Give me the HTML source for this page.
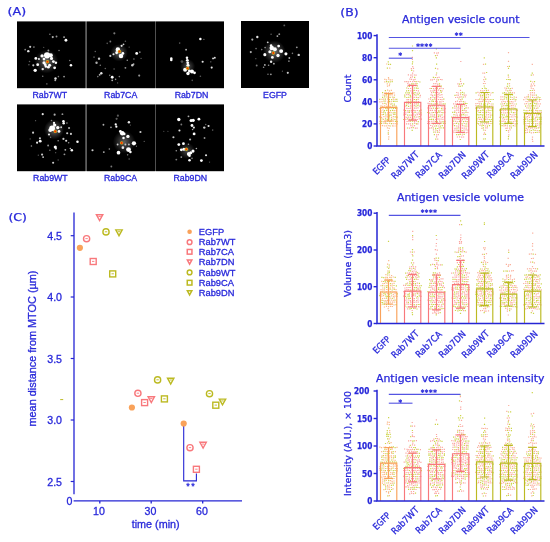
<!DOCTYPE html><html><head><meta charset="utf-8"><title>Figure</title>
<style>html,body{margin:0;padding:0;background:#fff}svg{display:block}.a{font-family:"Liberation Sans",sans-serif;stroke:#2828da;stroke-width:0.3px}.d{font-family:"DejaVu Sans Condensed","DejaVu Sans",sans-serif;stroke:#2828da;stroke-width:0.25px}</style></head><body>
<svg width="550" height="542" viewBox="0 0 550 542">
<defs><filter id="b1" x="-20%" y="-20%" width="140%" height="140%"><feGaussianBlur stdDeviation="0.6"/></filter><radialGradient id="hg"><stop offset="0" stop-color="#fff" stop-opacity="1"/><stop offset="0.5" stop-color="#fff" stop-opacity="0.45"/><stop offset="1" stop-color="#fff" stop-opacity="0"/></radialGradient><filter id="b3" x="-20%" y="-20%" width="140%" height="140%"><feGaussianBlur stdDeviation="0.62"/></filter><filter id="b2" x="-20%" y="-20%" width="140%" height="140%"><feGaussianBlur stdDeviation="0.35"/></filter></defs>
<rect width="550" height="542" fill="#fff"/>
<path d="M86 21.6V88M155.3 21.6V88M86 104.6V171M155.3 104.6V171" stroke="#8c8c8c" stroke-width="1.2"/>
<g><rect x="17" y="21.4" width="68.6" height="66.8" fill="#000"/>
<svg x="17" y="21.4" width="68.6" height="66.8" overflow="hidden"><g filter="url(#b1)" fill="#fff">
<circle cx="29.49" cy="40.15" r="11.92" fill="url(#hg)" fill-opacity="0.42"/>
<circle cx="30.11" cy="33.88" r="3.14" fill-opacity="1.00"/>
<circle cx="25.09" cy="34.50" r="1.69" fill-opacity="1.00"/>
<circle cx="33.88" cy="33.88" r="1.98" fill-opacity="1.00"/>
<circle cx="26.98" cy="41.41" r="1.55" fill-opacity="1.00"/>
<circle cx="28.23" cy="43.29" r="1.41" fill-opacity="0.99"/>
<circle cx="32.62" cy="43.91" r="1.55" fill-opacity="1.00"/>
<circle cx="36.39" cy="40.15" r="1.41" fill-opacity="1.00"/>
<circle cx="38.90" cy="41.41" r="1.26" fill-opacity="1.00"/>
<circle cx="37.64" cy="46.42" r="1.41" fill-opacity="0.99"/>
<circle cx="31.37" cy="45.80" r="1.41" fill-opacity="1.00"/>
<circle cx="28.86" cy="45.17" r="1.26" fill-opacity="1.00"/>
<circle cx="34.50" cy="37.01" r="1.55" fill-opacity="1.00"/>
<circle cx="26.98" cy="37.64" r="1.41" fill-opacity="0.99"/>
<circle cx="18.82" cy="37.01" r="1.41" fill-opacity="0.99"/>
<circle cx="20.70" cy="43.29" r="1.41" fill-opacity="0.99"/>
<circle cx="18.19" cy="48.93" r="1.69" fill-opacity="1.00"/>
<circle cx="48.93" cy="18.82" r="1.41" fill-opacity="1.00"/>
<circle cx="53.95" cy="43.91" r="1.26" fill-opacity="1.00"/>
</g><g filter="url(#b3)" fill="#fff">
<circle cx="21.96" cy="37.64" r="1.07" fill-opacity="0.89"/>
<circle cx="16.31" cy="43.91" r="1.07" fill-opacity="0.79"/>
<circle cx="25.72" cy="47.68" r="1.20" fill-opacity="0.89"/>
<circle cx="11.29" cy="29.74" r="1.20" fill-opacity="0.89"/>
<circle cx="13.17" cy="25.47" r="1.07" fill-opacity="0.79"/>
<circle cx="8.16" cy="28.23" r="0.79" fill-opacity="0.58"/>
<circle cx="16.94" cy="25.72" r="0.79" fill-opacity="0.58"/>
<circle cx="35.76" cy="15.68" r="1.07" fill-opacity="0.68"/>
<circle cx="39.52" cy="15.06" r="0.93" fill-opacity="0.58"/>
<circle cx="32.87" cy="12.80" r="0.79" fill-opacity="0.47"/>
<circle cx="47.05" cy="15.68" r="0.93" fill-opacity="0.68"/>
<circle cx="52.70" cy="39.15" r="0.79" fill-opacity="0.47"/>
<circle cx="38.52" cy="57.09" r="1.20" fill-opacity="0.89"/>
<circle cx="38.27" cy="58.97" r="0.93" fill-opacity="0.68"/>
<circle cx="47.05" cy="55.21" r="0.93" fill-opacity="0.58"/>
<circle cx="41.41" cy="55.21" r="0.79" fill-opacity="0.47"/>
<circle cx="25.72" cy="54.83" r="0.79" fill-opacity="0.47"/>
<circle cx="29.86" cy="62.48" r="0.79" fill-opacity="0.36"/>
<circle cx="42.03" cy="29.11" r="0.79" fill-opacity="0.47"/>
<circle cx="31.37" cy="29.11" r="0.93" fill-opacity="0.58"/>
<circle cx="26.73" cy="25.97" r="0.65" fill-opacity="0.36"/>
<circle cx="12.55" cy="40.15" r="0.79" fill-opacity="0.36"/>
<circle cx="11.92" cy="43.29" r="0.79" fill-opacity="0.36"/>
</g>
<g filter="url(#b2)"><circle cx="30.49" cy="40.40" r="1.7" fill="#c8c020"/><circle cx="30.49" cy="40.40" r="1.05" fill="#ff2a00"/></g>
</svg></g>
<text class="a" x="49.8" y="97.7" font-size="8.8" fill="#2828da" text-anchor="middle">Rab7WT</text>
<g><rect x="86.5" y="21.4" width="68.6" height="66.8" fill="#000"/>
<svg x="86.5" y="21.4" width="68.6" height="66.8" overflow="hidden"><g filter="url(#b1)" fill="#fff">
<circle cx="32.62" cy="31.37" r="8.78" fill="url(#hg)" fill-opacity="0.4"/>
<circle cx="31.37" cy="28.23" r="2.27" fill-opacity="1.00"/>
<circle cx="34.50" cy="34.50" r="2.27" fill-opacity="1.00"/>
<circle cx="36.39" cy="31.99" r="1.41" fill-opacity="1.00"/>
<circle cx="30.11" cy="31.37" r="1.41" fill-opacity="0.99"/>
<circle cx="50.19" cy="31.99" r="1.41" fill-opacity="1.00"/>
<circle cx="25.72" cy="55.83" r="1.41" fill-opacity="1.00"/>
</g><g filter="url(#b3)" fill="#fff">
<circle cx="26.98" cy="32.87" r="1.07" fill-opacity="0.89"/>
<circle cx="23.84" cy="34.50" r="1.07" fill-opacity="0.79"/>
<circle cx="35.13" cy="24.47" r="1.07" fill-opacity="0.89"/>
<circle cx="37.01" cy="22.96" r="0.93" fill-opacity="0.79"/>
<circle cx="53.32" cy="30.74" r="0.79" fill-opacity="0.58"/>
<circle cx="27.85" cy="11.92" r="1.07" fill-opacity="0.47"/>
<circle cx="23.84" cy="20.08" r="0.93" fill-opacity="0.47"/>
<circle cx="20.70" cy="21.96" r="0.79" fill-opacity="0.36"/>
<circle cx="38.90" cy="19.82" r="0.79" fill-opacity="0.36"/>
<circle cx="12.55" cy="37.26" r="1.20" fill-opacity="0.79"/>
<circle cx="10.04" cy="41.41" r="1.20" fill-opacity="0.68"/>
<circle cx="7.53" cy="35.76" r="0.79" fill-opacity="0.36"/>
<circle cx="8.78" cy="30.11" r="0.79" fill-opacity="0.36"/>
<circle cx="13.80" cy="43.91" r="0.79" fill-opacity="0.47"/>
<circle cx="14.81" cy="51.82" r="1.20" fill-opacity="0.89"/>
<circle cx="13.17" cy="53.32" r="0.93" fill-opacity="0.68"/>
<circle cx="11.29" cy="55.21" r="0.79" fill-opacity="0.47"/>
<circle cx="25.72" cy="58.97" r="0.93" fill-opacity="0.68"/>
<circle cx="29.11" cy="57.97" r="0.79" fill-opacity="0.58"/>
<circle cx="23.21" cy="53.95" r="0.79" fill-opacity="0.47"/>
<circle cx="32.87" cy="55.21" r="0.79" fill-opacity="0.47"/>
<circle cx="45.80" cy="43.91" r="1.20" fill-opacity="0.79"/>
<circle cx="47.05" cy="42.66" r="0.93" fill-opacity="0.68"/>
<circle cx="38.90" cy="46.42" r="0.93" fill-opacity="0.58"/>
<circle cx="40.78" cy="38.90" r="0.79" fill-opacity="0.58"/>
<circle cx="27.60" cy="47.68" r="0.79" fill-opacity="0.36"/>
<circle cx="18.82" cy="47.05" r="0.79" fill-opacity="0.36"/>
<circle cx="52.70" cy="54.20" r="1.07" fill-opacity="0.58"/>
<circle cx="47.43" cy="37.64" r="0.79" fill-opacity="0.47"/>
<circle cx="54.58" cy="37.01" r="0.65" fill-opacity="0.36"/>
<circle cx="42.66" cy="25.72" r="0.65" fill-opacity="0.36"/>
<circle cx="31.12" cy="61.48" r="0.65" fill-opacity="0.36"/>
</g>
<g filter="url(#b2)"><circle cx="33.00" cy="30.11" r="1.7" fill="#c8c020"/><circle cx="33.00" cy="30.11" r="1.05" fill="#ff2a00"/></g>
</svg></g>
<text class="a" x="120.7" y="97.7" font-size="8.8" fill="#2828da" text-anchor="middle">Rab7CA</text>
<g><rect x="155.6" y="21.4" width="68.4" height="66.8" fill="#000"/>
<svg x="155.6" y="21.4" width="68.4" height="66.8" overflow="hidden"><g filter="url(#b1)" fill="#fff">
<circle cx="31.99" cy="45.17" r="7.53" fill="url(#hg)" fill-opacity="0.35"/>
<circle cx="31.37" cy="36.39" r="1.26" fill-opacity="1.00"/>
<circle cx="31.74" cy="38.90" r="1.41" fill-opacity="1.00"/>
<circle cx="32.12" cy="41.41" r="1.41" fill-opacity="1.00"/>
<circle cx="32.37" cy="43.91" r="1.55" fill-opacity="1.00"/>
<circle cx="29.49" cy="48.31" r="1.98" fill-opacity="1.00"/>
<circle cx="36.39" cy="50.19" r="1.98" fill-opacity="1.00"/>
<circle cx="38.90" cy="51.44" r="1.41" fill-opacity="1.00"/>
<circle cx="32.37" cy="52.07" r="1.69" fill-opacity="1.00"/>
<circle cx="33.88" cy="49.56" r="1.55" fill-opacity="1.00"/>
<circle cx="15.68" cy="37.01" r="1.26" fill-opacity="1.00"/>
<circle cx="15.68" cy="38.64" r="1.26" fill-opacity="1.00"/>
<circle cx="44.79" cy="17.57" r="1.26" fill-opacity="0.99"/>
</g><g filter="url(#b3)" fill="#fff">
<circle cx="48.31" cy="17.94" r="0.65" fill-opacity="0.47"/>
<circle cx="30.49" cy="28.23" r="0.93" fill-opacity="0.68"/>
<circle cx="24.09" cy="21.71" r="0.79" fill-opacity="0.36"/>
<circle cx="57.47" cy="37.01" r="0.93" fill-opacity="0.89"/>
<circle cx="59.22" cy="36.39" r="0.93" fill-opacity="0.89"/>
<circle cx="55.21" cy="40.40" r="0.65" fill-opacity="0.47"/>
<circle cx="47.05" cy="40.40" r="1.07" fill-opacity="0.89"/>
<circle cx="56.09" cy="46.17" r="1.07" fill-opacity="0.89"/>
<circle cx="44.79" cy="54.83" r="0.79" fill-opacity="0.36"/>
<circle cx="36.64" cy="58.97" r="0.79" fill-opacity="0.36"/>
<circle cx="26.35" cy="40.15" r="1.34" fill-opacity="0.31"/>
</g>
<g filter="url(#b2)"><circle cx="31.99" cy="46.80" r="1.7" fill="#c8c020"/><circle cx="31.99" cy="46.80" r="1.05" fill="#ff2a00"/></g>
</svg></g>
<text class="a" x="191.5" y="97.7" font-size="8.8" fill="#2828da" text-anchor="middle">Rab7DN</text>
<g><rect x="241" y="21" width="68" height="67" fill="#000"/>
<svg x="241" y="21" width="68" height="67" overflow="hidden"><g filter="url(#b1)" fill="#fff">
<circle cx="33.25" cy="30.74" r="11.29" fill="url(#hg)" fill-opacity="0.45"/>
<circle cx="30.74" cy="26.98" r="2.27" fill-opacity="1.00"/>
<circle cx="33.88" cy="28.23" r="1.98" fill-opacity="1.00"/>
<circle cx="30.11" cy="24.47" r="1.26" fill-opacity="1.00"/>
<circle cx="37.64" cy="25.09" r="1.41" fill-opacity="0.99"/>
<circle cx="40.15" cy="30.11" r="1.98" fill-opacity="1.00"/>
<circle cx="37.01" cy="34.50" r="1.69" fill-opacity="1.00"/>
<circle cx="44.92" cy="32.87" r="1.55" fill-opacity="1.00"/>
<circle cx="23.84" cy="33.63" r="1.55" fill-opacity="1.00"/>
<circle cx="31.37" cy="36.39" r="1.41" fill-opacity="0.99"/>
<circle cx="28.86" cy="30.74" r="1.55" fill-opacity="1.00"/>
</g><g filter="url(#b3)" fill="#fff">
<circle cx="16.31" cy="16.06" r="1.20" fill-opacity="0.89"/>
<circle cx="11.29" cy="18.57" r="1.07" fill-opacity="0.68"/>
<circle cx="9.79" cy="31.12" r="1.07" fill-opacity="0.68"/>
<circle cx="15.06" cy="27.60" r="0.79" fill-opacity="0.47"/>
<circle cx="20.70" cy="28.61" r="0.79" fill-opacity="0.47"/>
<circle cx="24.09" cy="26.60" r="0.79" fill-opacity="0.58"/>
<circle cx="26.73" cy="21.33" r="0.93" fill-opacity="0.79"/>
<circle cx="36.39" cy="15.06" r="0.93" fill-opacity="0.68"/>
<circle cx="38.27" cy="13.17" r="0.93" fill-opacity="0.58"/>
<circle cx="30.11" cy="13.17" r="0.79" fill-opacity="0.36"/>
<circle cx="43.29" cy="4.39" r="0.93" fill-opacity="0.36"/>
<circle cx="55.83" cy="26.35" r="0.93" fill-opacity="0.58"/>
<circle cx="57.72" cy="33.88" r="1.20" fill-opacity="0.79"/>
<circle cx="48.31" cy="37.01" r="0.93" fill-opacity="0.68"/>
<circle cx="47.93" cy="40.15" r="0.79" fill-opacity="0.58"/>
<circle cx="51.44" cy="32.37" r="0.79" fill-opacity="0.47"/>
<circle cx="30.11" cy="40.78" r="1.20" fill-opacity="0.89"/>
<circle cx="32.87" cy="42.66" r="0.93" fill-opacity="0.68"/>
<circle cx="27.60" cy="44.17" r="0.79" fill-opacity="0.58"/>
<circle cx="23.84" cy="43.91" r="0.93" fill-opacity="0.68"/>
<circle cx="22.58" cy="46.17" r="0.79" fill-opacity="0.58"/>
<circle cx="15.68" cy="44.54" r="0.93" fill-opacity="0.47"/>
<circle cx="14.81" cy="37.64" r="0.65" fill-opacity="0.36"/>
<circle cx="46.80" cy="51.82" r="1.07" fill-opacity="0.79"/>
<circle cx="41.41" cy="50.19" r="0.65" fill-opacity="0.36"/>
<circle cx="29.86" cy="53.32" r="0.93" fill-opacity="0.58"/>
<circle cx="26.98" cy="53.32" r="0.79" fill-opacity="0.47"/>
</g>
<g filter="url(#b2)"><circle cx="32.37" cy="31.99" r="1.7" fill="#c8c020"/><circle cx="32.37" cy="31.99" r="1.05" fill="#ff2a00"/></g>
</svg></g>
<text class="a" x="275" y="97.7" font-size="8.8" fill="#2828da" text-anchor="middle">EGFP</text>
<g><rect x="17" y="104.4" width="68.6" height="66.8" fill="#000"/>
<svg x="17" y="104.4" width="68.6" height="66.8" overflow="hidden"><g filter="url(#b1)" fill="#fff">
<circle cx="37.01" cy="25.09" r="10.04" fill="url(#hg)" fill-opacity="0.45"/>
<circle cx="35.13" cy="23.84" r="2.85" fill-opacity="1.00"/>
<circle cx="37.64" cy="20.70" r="1.69" fill-opacity="1.00"/>
<circle cx="40.78" cy="23.21" r="1.69" fill-opacity="1.00"/>
<circle cx="33.25" cy="25.72" r="1.98" fill-opacity="1.00"/>
<circle cx="42.03" cy="26.98" r="1.41" fill-opacity="1.00"/>
<circle cx="37.01" cy="18.57" r="1.12" fill-opacity="0.99"/>
<circle cx="46.42" cy="16.94" r="1.26" fill-opacity="0.99"/>
<circle cx="46.68" cy="18.82" r="1.26" fill-opacity="0.99"/>
<circle cx="23.21" cy="36.76" r="1.41" fill-opacity="0.99"/>
<circle cx="60.48" cy="37.26" r="1.26" fill-opacity="0.99"/>
<circle cx="38.27" cy="42.66" r="1.55" fill-opacity="0.99"/>
<circle cx="54.83" cy="45.80" r="1.26" fill-opacity="0.99"/>
</g><g filter="url(#b3)" fill="#fff">
<circle cx="31.99" cy="30.11" r="1.07" fill-opacity="0.89"/>
<circle cx="25.72" cy="9.79" r="1.07" fill-opacity="0.89"/>
<circle cx="37.64" cy="10.29" r="1.07" fill-opacity="0.68"/>
<circle cx="45.42" cy="9.79" r="0.93" fill-opacity="0.58"/>
<circle cx="34.50" cy="16.06" r="0.79" fill-opacity="0.47"/>
<circle cx="18.57" cy="16.31" r="0.65" fill-opacity="0.36"/>
<circle cx="49.94" cy="18.57" r="0.79" fill-opacity="0.58"/>
<circle cx="52.07" cy="23.59" r="1.07" fill-opacity="0.68"/>
<circle cx="50.19" cy="28.86" r="1.07" fill-opacity="0.79"/>
<circle cx="53.95" cy="29.49" r="1.07" fill-opacity="0.79"/>
<circle cx="44.17" cy="22.84" r="0.93" fill-opacity="0.79"/>
<circle cx="16.06" cy="28.23" r="1.07" fill-opacity="0.79"/>
<circle cx="22.96" cy="33.88" r="1.07" fill-opacity="0.79"/>
<circle cx="20.08" cy="38.27" r="1.07" fill-opacity="0.89"/>
<circle cx="13.17" cy="34.50" r="0.65" fill-opacity="0.36"/>
<circle cx="14.43" cy="41.66" r="0.79" fill-opacity="0.58"/>
<circle cx="46.42" cy="34.50" r="1.07" fill-opacity="0.79"/>
<circle cx="49.18" cy="36.39" r="1.07" fill-opacity="0.89"/>
<circle cx="51.69" cy="38.27" r="0.79" fill-opacity="0.58"/>
<circle cx="41.15" cy="36.39" r="0.79" fill-opacity="0.58"/>
<circle cx="33.63" cy="32.87" r="0.65" fill-opacity="0.47"/>
<circle cx="38.90" cy="44.17" r="1.07" fill-opacity="0.89"/>
<circle cx="31.12" cy="41.15" r="0.93" fill-opacity="0.58"/>
<circle cx="32.87" cy="45.80" r="0.79" fill-opacity="0.47"/>
<circle cx="53.32" cy="44.17" r="0.79" fill-opacity="0.68"/>
<circle cx="48.31" cy="45.42" r="0.93" fill-opacity="0.68"/>
<circle cx="47.43" cy="49.94" r="0.93" fill-opacity="0.58"/>
<circle cx="38.64" cy="48.31" r="0.65" fill-opacity="0.36"/>
<circle cx="25.09" cy="50.19" r="1.07" fill-opacity="0.79"/>
<circle cx="26.10" cy="52.70" r="0.93" fill-opacity="0.79"/>
<circle cx="21.33" cy="50.82" r="0.65" fill-opacity="0.36"/>
<circle cx="36.14" cy="58.34" r="1.07" fill-opacity="0.79"/>
<circle cx="41.15" cy="55.58" r="0.65" fill-opacity="0.36"/>
</g>
<g filter="url(#b2)"><circle cx="38.27" cy="26.98" r="1.7" fill="#c8c020"/><circle cx="38.27" cy="26.98" r="1.05" fill="#ff2a00"/></g>
</svg></g>
<text class="a" x="50.4" y="180.8" font-size="8.8" fill="#2828da" text-anchor="middle">Rab9WT</text>
<g><rect x="86.5" y="104.4" width="68.6" height="66.8" fill="#000"/>
<svg x="86.5" y="104.4" width="68.6" height="66.8" overflow="hidden"><g filter="url(#b1)" fill="#fff">
<circle cx="37.64" cy="37.64" r="11.29" fill="url(#hg)" fill-opacity="0.38"/>
<circle cx="35.76" cy="28.86" r="2.27" fill-opacity="1.00"/>
<circle cx="33.88" cy="26.98" r="1.41" fill-opacity="0.99"/>
<circle cx="37.64" cy="29.49" r="1.41" fill-opacity="1.00"/>
<circle cx="41.41" cy="31.99" r="1.69" fill-opacity="0.99"/>
<circle cx="37.01" cy="33.63" r="1.26" fill-opacity="0.99"/>
<circle cx="47.43" cy="38.90" r="2.13" fill-opacity="1.00"/>
<circle cx="42.03" cy="45.17" r="2.42" fill-opacity="1.00"/>
<circle cx="43.91" cy="47.68" r="1.26" fill-opacity="0.99"/>
<circle cx="31.99" cy="48.31" r="1.84" fill-opacity="0.99"/>
<circle cx="29.23" cy="20.08" r="1.12" fill-opacity="0.99"/>
<circle cx="29.86" cy="22.33" r="1.12" fill-opacity="0.99"/>
</g><g filter="url(#b3)" fill="#fff">
<circle cx="36.39" cy="43.29" r="1.34" fill-opacity="0.89"/>
<circle cx="31.12" cy="40.15" r="0.93" fill-opacity="0.79"/>
<circle cx="42.41" cy="40.15" r="0.93" fill-opacity="0.68"/>
<circle cx="38.90" cy="40.15" r="0.93" fill-opacity="0.68"/>
<circle cx="31.37" cy="11.29" r="1.07" fill-opacity="0.36"/>
<circle cx="30.11" cy="14.43" r="1.07" fill-opacity="0.36"/>
<circle cx="42.41" cy="17.82" r="1.20" fill-opacity="0.89"/>
<circle cx="16.94" cy="20.33" r="0.93" fill-opacity="0.68"/>
<circle cx="24.47" cy="22.96" r="0.93" fill-opacity="0.58"/>
<circle cx="53.95" cy="27.60" r="1.07" fill-opacity="0.79"/>
<circle cx="43.91" cy="20.70" r="0.65" fill-opacity="0.36"/>
<circle cx="6.02" cy="45.80" r="1.07" fill-opacity="0.79"/>
<circle cx="17.31" cy="47.68" r="0.93" fill-opacity="0.68"/>
<circle cx="22.84" cy="44.54" r="0.79" fill-opacity="0.58"/>
<circle cx="57.72" cy="37.01" r="0.65" fill-opacity="0.36"/>
<circle cx="49.94" cy="41.78" r="0.65" fill-opacity="0.47"/>
<circle cx="24.84" cy="62.11" r="0.93" fill-opacity="0.47"/>
<circle cx="42.66" cy="54.58" r="0.79" fill-opacity="0.36"/>
<circle cx="41.15" cy="50.44" r="0.79" fill-opacity="0.47"/>
</g>
<g filter="url(#b2)"><circle cx="35.13" cy="38.52" r="1.7" fill="#c8c020"/><circle cx="35.13" cy="38.52" r="1.05" fill="#ff2a00"/></g>
</svg></g>
<text class="a" x="120.6" y="180.8" font-size="8.8" fill="#2828da" text-anchor="middle">Rab9CA</text>
<g><rect x="155.6" y="104.4" width="68.4" height="66.8" fill="#000"/>
<svg x="155.6" y="104.4" width="68.4" height="66.8" overflow="hidden"><g filter="url(#b1)" fill="#fff">
<circle cx="31.37" cy="46.42" r="8.16" fill="url(#hg)" fill-opacity="0.3"/>
<circle cx="28.23" cy="44.92" r="1.55" fill-opacity="1.00"/>
<circle cx="25.72" cy="45.42" r="1.41" fill-opacity="1.00"/>
<circle cx="33.25" cy="49.56" r="1.98" fill-opacity="1.00"/>
<circle cx="37.39" cy="46.68" r="1.55" fill-opacity="1.00"/>
<circle cx="35.13" cy="48.31" r="1.55" fill-opacity="1.00"/>
<circle cx="33.88" cy="51.44" r="1.26" fill-opacity="0.99"/>
<circle cx="23.21" cy="15.06" r="1.69" fill-opacity="1.00"/>
<circle cx="35.51" cy="16.06" r="1.55" fill-opacity="1.00"/>
<circle cx="37.64" cy="15.93" r="1.55" fill-opacity="1.00"/>
<circle cx="43.29" cy="14.81" r="1.41" fill-opacity="1.00"/>
<circle cx="36.39" cy="21.08" r="1.41" fill-opacity="1.00"/>
<circle cx="38.52" cy="29.49" r="1.41" fill-opacity="1.00"/>
<circle cx="23.21" cy="40.15" r="1.41" fill-opacity="1.00"/>
<circle cx="27.85" cy="39.27" r="1.41" fill-opacity="1.00"/>
<circle cx="33.88" cy="55.83" r="1.26" fill-opacity="0.99"/>
<circle cx="45.80" cy="56.21" r="1.41" fill-opacity="1.00"/>
</g><g filter="url(#b3)" fill="#fff">
<circle cx="40.78" cy="44.17" r="0.79" fill-opacity="0.68"/>
<circle cx="32.87" cy="11.92" r="0.93" fill-opacity="0.68"/>
<circle cx="38.27" cy="23.21" r="1.07" fill-opacity="0.89"/>
<circle cx="37.01" cy="25.09" r="0.79" fill-opacity="0.68"/>
<circle cx="25.72" cy="20.08" r="0.93" fill-opacity="0.47"/>
<circle cx="23.84" cy="26.10" r="1.07" fill-opacity="0.89"/>
<circle cx="17.82" cy="32.87" r="1.07" fill-opacity="0.79"/>
<circle cx="48.68" cy="23.21" r="1.20" fill-opacity="0.79"/>
<circle cx="52.95" cy="21.58" r="1.07" fill-opacity="0.89"/>
<circle cx="50.19" cy="20.08" r="0.65" fill-opacity="0.47"/>
<circle cx="57.09" cy="25.72" r="0.79" fill-opacity="0.36"/>
<circle cx="48.93" cy="33.63" r="0.93" fill-opacity="0.58"/>
<circle cx="34.50" cy="35.13" r="1.07" fill-opacity="0.68"/>
<circle cx="32.87" cy="39.90" r="0.79" fill-opacity="0.58"/>
<circle cx="20.70" cy="46.42" r="0.79" fill-opacity="0.58"/>
<circle cx="25.72" cy="52.70" r="0.93" fill-opacity="0.58"/>
<circle cx="20.70" cy="55.21" r="0.93" fill-opacity="0.47"/>
<circle cx="36.39" cy="53.95" r="0.79" fill-opacity="0.58"/>
<circle cx="50.44" cy="50.82" r="1.07" fill-opacity="0.89"/>
<circle cx="53.95" cy="57.72" r="0.65" fill-opacity="0.36"/>
<circle cx="12.30" cy="26.98" r="0.65" fill-opacity="0.26"/>
<circle cx="8.16" cy="26.98" r="0.65" fill-opacity="0.26"/>
</g>
<g filter="url(#b2)"><circle cx="30.74" cy="44.79" r="1.7" fill="#c8c020"/><circle cx="30.74" cy="44.79" r="1.05" fill="#ff2a00"/></g>
</svg></g>
<text class="a" x="190.3" y="180.8" font-size="8.8" fill="#2828da" text-anchor="middle">Rab9DN</text>
<text class="d" x="7.6" y="15.4" font-size="11" fill="#2828da" textLength="18.6" lengthAdjust="spacingAndGlyphs" stroke-width="0.1">(A)</text>
<text class="d" x="340.3" y="16.1" font-size="11" fill="#2828da" textLength="18.2" lengthAdjust="spacingAndGlyphs" stroke-width="0.1">(B)</text>
<text class="d" x="8.4" y="221.4" font-size="11" fill="#2828da" textLength="18.4" lengthAdjust="spacingAndGlyphs" stroke-width="0.1">(C)</text>
<path d="M381.4 112.5h1.2M387.1 112.9h1.2M388.8 112.7h1.2M390.5 112.6h1.2M380.4 105.9h1.2M382.1 106.3h1.2M384.1 105.9h1.2M386.2 106.4h1.2M387.7 106.2h1.2M389.5 106.3h1.2M393.6 105.7h1.2M381.1 108.1h1.2M383.0 107.8h1.2M386.8 108.5h1.2M396.3 108.2h1.2M379.3 123.7h1.2M383.4 123.3h1.2M386.7 123.7h1.2M388.9 123.5h1.2M392.6 123.6h1.2M394.6 123.6h1.2M396.6 123.9h1.2M379.5 121.4h1.2M383.2 121.6h1.2M384.8 121.8h1.2M392.8 121.1h1.2M381.0 117.3h1.2M383.3 116.7h1.2M385.3 116.8h1.2M387.0 116.9h1.2M390.9 117.3h1.2M392.8 116.7h1.2M381.4 99.3h1.2M383.1 99.1h1.2M387.2 99.2h1.2M392.8 99.1h1.2M394.6 99.3h1.2M380.0 125.5h1.2M382.0 125.7h1.2M384.2 125.9h1.2M386.1 125.8h1.2M388.2 125.7h1.2M391.9 125.8h1.2M393.3 126.0h1.2M395.4 126.0h1.2M382.9 119.3h1.2M392.5 119.1h1.2M382.2 103.7h1.2M385.8 104.2h1.2M390.1 104.1h1.2M380.4 110.8h1.2M382.4 110.0h1.2M393.7 110.7h1.2M395.6 110.5h1.2M386.9 86.2h1.2M388.7 85.7h1.2M381.5 114.7h1.2M386.7 114.9h1.2M392.9 114.5h1.2M386.1 97.0h1.2M391.9 97.2h1.2M379.3 101.8h1.2M381.4 101.6h1.2M384.9 101.2h1.2M387.1 102.0h1.2M390.6 101.6h1.2M387.9 77.7h1.2M384.2 79.4h1.2M385.9 79.8h1.2M388.1 79.1h1.2M389.7 79.8h1.2M391.6 79.8h1.2M387.0 90.2h1.2M388.9 90.8h1.2M390.8 90.4h1.2M382.4 95.0h1.2M384.1 95.3h1.2M388.1 94.7h1.2M389.6 94.8h1.2M391.5 94.8h1.2M393.9 95.1h1.2M384.3 92.9h1.2M385.8 92.8h1.2M387.7 92.6h1.2M391.7 92.8h1.2M393.4 92.8h1.2M386.1 64.0h1.2M386.7 83.9h1.2M389.0 84.2h1.2M384.2 81.8h1.2M389.1 68.2h1.2M386.9 127.8h1.2M388.6 128.3h1.2M387.8 130.6h1.2M388.2 136.8h1.2M387.8 134.3h1.2M388.0 139.2h1.2" stroke="#f9a870" stroke-width="1.2" stroke-opacity="0.8" fill="none"/>
<path d="M383.1 112.2h1.2M384.8 112.8h1.2M392.6 112.8h1.2M394.3 112.6h1.2M391.9 105.9h1.2M395.5 106.1h1.2M379.4 108.5h1.2M385.2 108.4h1.2M389.1 108.0h1.2M390.8 107.9h1.2M392.8 108.5h1.2M394.8 108.3h1.2M381.0 123.4h1.2M385.2 123.3h1.2M390.8 123.6h1.2M381.2 121.3h1.2M387.1 121.1h1.2M389.1 121.6h1.2M390.5 121.1h1.2M394.8 121.3h1.2M396.6 121.6h1.2M379.1 116.9h1.2M388.7 116.8h1.2M394.6 116.9h1.2M396.5 117.1h1.2M379.2 99.4h1.2M384.8 99.1h1.2M388.7 99.7h1.2M391.0 99.7h1.2M396.2 99.4h1.2M389.6 126.0h1.2M381.4 119.0h1.2M384.9 118.9h1.2M386.7 119.3h1.2M388.6 119.0h1.2M390.8 119.3h1.2M394.3 119.5h1.2M384.3 103.4h1.2M388.0 103.5h1.2M391.4 103.9h1.2M393.7 104.1h1.2M383.9 110.6h1.2M386.1 110.3h1.2M387.8 110.2h1.2M389.9 110.6h1.2M392.0 110.4h1.2M382.9 114.4h1.2M385.1 115.0h1.2M389.0 115.1h1.2M390.5 115.1h1.2M394.3 114.4h1.2M382.0 97.4h1.2M384.1 96.9h1.2M387.8 97.0h1.2M389.5 97.4h1.2M393.5 97.3h1.2M383.4 101.2h1.2M388.8 101.6h1.2M392.8 101.4h1.2M394.4 101.3h1.2M396.4 101.3h1.2M384.8 90.6h1.2M385.8 94.8h1.2M382.0 92.6h1.2M389.7 93.0h1.2M387.7 132.8h1.2M388.0 64.3h1.2M389.9 64.3h1.2M386.0 81.7h1.2M387.8 81.8h1.2M389.6 81.8h1.2M391.6 81.7h1.2M386.8 68.2h1.2M387.7 61.8h1.2" stroke="#c4cc2c" stroke-width="1.2" stroke-opacity="0.85" fill="none"/>
<path d="M406.2 117.4h1.2M408.0 117.2h1.2M409.9 117.3h1.2M412.1 116.8h1.2M415.6 117.1h1.2M417.6 116.9h1.2M404.3 81.6h1.2M406.1 81.6h1.2M407.8 81.9h1.2M409.8 81.5h1.2M412.1 81.7h1.2M414.0 81.5h1.2M417.6 81.5h1.2M406.5 121.5h1.2M408.4 121.5h1.2M413.9 121.7h1.2M415.8 121.2h1.2M410.8 68.6h1.2M412.9 68.3h1.2M406.0 123.8h1.2M408.0 123.9h1.2M409.9 123.9h1.2M414.1 123.4h1.2M417.3 123.8h1.2M407.1 86.2h1.2M411.1 85.7h1.2M412.6 85.9h1.2M414.7 85.7h1.2M411.2 93.0h1.2M416.6 93.1h1.2M413.6 97.4h1.2M415.8 97.4h1.2M419.5 97.0h1.2M407.9 88.5h1.2M410.0 88.5h1.2M406.3 108.3h1.2M408.3 108.5h1.2M409.9 108.1h1.2M411.6 108.0h1.2M413.9 108.2h1.2M415.6 108.2h1.2M417.4 107.8h1.2M406.2 94.6h1.2M408.1 94.7h1.2M413.7 94.7h1.2M419.7 95.3h1.2M406.4 99.6h1.2M407.9 99.6h1.2M409.9 99.4h1.2M412.1 99.2h1.2M417.6 99.4h1.2M404.4 106.1h1.2M410.0 105.8h1.2M413.8 105.7h1.2M419.3 106.2h1.2M403.3 114.9h1.2M405.1 114.5h1.2M411.0 115.1h1.2M413.0 114.9h1.2M414.8 115.2h1.2M416.7 114.7h1.2M418.8 114.4h1.2M420.6 114.8h1.2M408.0 103.6h1.2M411.7 104.0h1.2M414.0 103.9h1.2M415.8 103.9h1.2M410.0 77.4h1.2M411.8 76.9h1.2M403.4 113.0h1.2M405.2 112.8h1.2M407.4 112.4h1.2M410.9 112.2h1.2M413.0 113.0h1.2M416.4 113.0h1.2M418.3 112.8h1.2M406.3 101.8h1.2M415.6 101.3h1.2M417.8 101.6h1.2M403.3 110.1h1.2M407.3 110.7h1.2M410.8 110.4h1.2M413.1 110.4h1.2M414.5 110.7h1.2M416.7 110.5h1.2M407.8 74.9h1.2M410.2 75.1h1.2M411.7 75.0h1.2M413.8 75.0h1.2M415.4 75.1h1.2M405.3 119.4h1.2M409.0 119.3h1.2M413.1 118.9h1.2M414.7 119.3h1.2M416.8 119.5h1.2M418.7 118.9h1.2M420.7 119.1h1.2M410.2 90.8h1.2M415.8 90.5h1.2M417.8 90.9h1.2M412.0 73.2h1.2M407.2 83.6h1.2M409.1 84.3h1.2M414.6 83.7h1.2M408.9 128.1h1.2M410.8 127.7h1.2M414.8 128.2h1.2M416.5 128.2h1.2M410.3 125.6h1.2M412.0 126.0h1.2M413.9 125.7h1.2M413.0 71.0h1.2M409.3 79.1h1.2M411.0 79.3h1.2M413.0 79.8h1.2M414.5 79.3h1.2M411.8 59.5h1.2M412.1 66.6h1.2M411.8 57.4h1.2" stroke="#f99088" stroke-width="1.2" stroke-opacity="0.8" fill="none"/>
<path d="M404.2 117.1h1.2M413.7 116.8h1.2M419.2 116.7h1.2M415.5 81.6h1.2M419.3 82.0h1.2M410.0 121.1h1.2M412.0 121.1h1.2M417.7 121.6h1.2M412.0 123.8h1.2M415.9 123.8h1.2M408.8 86.4h1.2M416.7 85.9h1.2M405.2 92.8h1.2M407.3 92.8h1.2M408.8 92.9h1.2M413.0 93.1h1.2M414.5 92.6h1.2M418.7 93.1h1.2M404.2 96.8h1.2M406.2 97.5h1.2M408.2 97.4h1.2M410.0 96.8h1.2M411.9 97.2h1.2M417.6 97.5h1.2M406.1 88.0h1.2M412.0 88.0h1.2M413.9 88.0h1.2M415.8 88.1h1.2M417.4 88.3h1.2M404.1 95.1h1.2M409.7 95.3h1.2M412.0 95.3h1.2M415.4 95.2h1.2M417.5 94.7h1.2M413.8 99.5h1.2M415.8 99.7h1.2M406.0 105.7h1.2M408.0 106.4h1.2M411.6 106.1h1.2M415.4 106.2h1.2M417.3 105.6h1.2M407.1 115.2h1.2M409.3 115.2h1.2M406.2 103.8h1.2M409.9 103.6h1.2M417.6 103.8h1.2M414.0 77.3h1.2M408.8 112.5h1.2M414.5 112.3h1.2M420.4 112.9h1.2M408.0 101.8h1.2M410.1 101.2h1.2M411.7 101.6h1.2M413.6 101.9h1.2M405.0 110.7h1.2M408.9 110.8h1.2M418.8 110.8h1.2M420.4 110.2h1.2M403.2 119.5h1.2M407.1 118.9h1.2M410.7 119.4h1.2M406.0 90.8h1.2M408.0 90.7h1.2M412.1 90.8h1.2M413.6 90.3h1.2M411.8 63.9h1.2M411.1 83.8h1.2M412.6 83.9h1.2M416.4 83.7h1.2M406.9 128.0h1.2M412.6 127.7h1.2M411.1 70.3h1.2M412.0 61.9h1.2M411.9 50.6h1.2M411.9 46.0h1.2M411.6 130.3h1.2" stroke="#c4cc2c" stroke-width="1.2" stroke-opacity="0.85" fill="none"/>
<path d="M432.3 97.2h1.2M434.1 97.5h1.2M437.5 96.8h1.2M439.5 97.5h1.2M441.6 97.4h1.2M429.0 101.5h1.2M434.9 101.4h1.2M436.7 101.8h1.2M439.0 101.8h1.2M440.4 101.8h1.2M442.6 101.5h1.2M430.1 125.5h1.2M432.0 126.2h1.2M434.1 126.2h1.2M437.7 126.0h1.2M427.3 108.0h1.2M429.4 108.2h1.2M431.0 108.4h1.2M438.5 108.0h1.2M442.4 108.1h1.2M444.5 108.6h1.2M429.4 88.5h1.2M433.0 88.6h1.2M435.2 88.3h1.2M439.0 88.6h1.2M440.5 88.2h1.2M442.6 88.7h1.2M428.6 117.4h1.2M432.3 116.7h1.2M433.8 117.1h1.2M439.7 116.7h1.2M441.7 117.3h1.2M443.6 116.8h1.2M428.2 99.0h1.2M430.0 99.1h1.2M435.6 99.3h1.2M437.9 99.5h1.2M439.8 99.5h1.2M441.4 99.7h1.2M436.7 77.6h1.2M438.5 77.3h1.2M427.5 103.4h1.2M429.3 103.7h1.2M433.2 104.1h1.2M438.7 104.1h1.2M440.4 103.9h1.2M431.0 92.7h1.2M435.1 92.7h1.2M436.9 92.5h1.2M438.5 93.1h1.2M427.1 123.5h1.2M429.1 123.6h1.2M431.1 123.4h1.2M437.1 123.7h1.2M438.9 123.8h1.2M429.2 128.2h1.2M431.0 127.9h1.2M438.6 127.9h1.2M427.6 121.7h1.2M429.0 121.7h1.2M431.2 121.3h1.2M433.3 121.2h1.2M439.0 121.1h1.2M440.5 121.8h1.2M430.5 94.8h1.2M432.0 95.3h1.2M436.0 95.1h1.2M437.5 94.6h1.2M439.4 95.1h1.2M441.3 94.6h1.2M436.7 55.4h1.2M431.4 112.6h1.2M434.7 112.4h1.2M440.7 112.5h1.2M444.2 112.4h1.2M432.9 129.9h1.2M436.8 130.5h1.2M438.9 130.1h1.2M435.1 119.5h1.2M437.1 119.0h1.2M438.5 119.1h1.2M440.5 119.2h1.2M442.3 119.3h1.2M428.1 110.4h1.2M430.0 110.4h1.2M431.8 110.3h1.2M434.3 110.4h1.2M435.7 110.6h1.2M439.5 110.8h1.2M443.3 110.1h1.2M435.0 132.2h1.2M438.7 132.3h1.2M430.3 114.8h1.2M432.1 115.0h1.2M439.6 115.1h1.2M430.2 90.8h1.2M432.4 90.8h1.2M433.9 90.3h1.2M435.6 90.3h1.2M437.8 90.2h1.2M441.4 90.9h1.2M428.1 106.4h1.2M430.0 106.4h1.2M433.7 105.9h1.2M437.7 105.9h1.2M439.8 105.7h1.2M441.4 106.4h1.2M443.3 106.0h1.2M433.8 52.9h1.2M436.1 53.2h1.2M437.8 52.8h1.2M430.1 79.8h1.2M431.8 79.8h1.2M433.7 79.3h1.2M436.2 79.8h1.2M439.8 79.5h1.2M441.4 79.6h1.2M431.4 86.5h1.2M432.8 86.4h1.2M434.8 86.3h1.2M436.7 86.0h1.2M437.1 68.8h1.2M433.2 83.7h1.2M435.2 83.7h1.2M437.1 84.2h1.2M435.7 74.9h1.2M436.0 134.8h1.2M437.8 134.6h1.2M436.0 81.6h1.2M437.1 139.2h1.2M436.0 136.8h1.2" stroke="#f99088" stroke-width="1.2" stroke-opacity="0.8" fill="none"/>
<path d="M430.1 97.5h1.2M435.8 97.2h1.2M431.3 101.2h1.2M432.8 101.3h1.2M435.8 125.9h1.2M439.7 126.2h1.2M441.7 125.6h1.2M432.9 108.2h1.2M435.2 108.4h1.2M437.1 108.4h1.2M440.9 108.4h1.2M430.9 88.5h1.2M436.8 88.2h1.2M430.3 116.9h1.2M435.6 117.3h1.2M437.8 116.7h1.2M432.2 99.5h1.2M434.0 99.0h1.2M443.2 99.2h1.2M432.8 77.3h1.2M434.8 77.5h1.2M431.1 103.8h1.2M434.7 103.8h1.2M436.7 103.8h1.2M442.6 103.9h1.2M444.5 103.9h1.2M433.2 92.4h1.2M440.6 92.4h1.2M432.8 123.8h1.2M434.8 123.6h1.2M440.4 123.3h1.2M442.7 123.4h1.2M444.6 123.3h1.2M432.8 128.0h1.2M435.0 128.4h1.2M437.1 128.5h1.2M440.4 127.8h1.2M442.8 127.9h1.2M435.0 121.5h1.2M436.8 121.8h1.2M442.4 121.6h1.2M444.3 121.4h1.2M434.2 95.1h1.2M434.9 55.6h1.2M427.2 112.5h1.2M429.1 113.0h1.2M432.9 112.5h1.2M436.8 112.7h1.2M438.5 112.3h1.2M442.3 112.6h1.2M435.2 130.0h1.2M429.3 119.5h1.2M430.9 119.4h1.2M432.8 119.4h1.2M438.0 110.8h1.2M441.4 110.1h1.2M433.2 132.2h1.2M437.0 132.1h1.2M433.8 114.8h1.2M436.0 114.5h1.2M438.1 115.0h1.2M441.4 114.9h1.2M439.9 90.7h1.2M432.0 105.9h1.2M436.1 105.6h1.2M437.8 79.8h1.2M438.9 85.8h1.2M440.7 86.1h1.2M434.9 68.3h1.2M438.9 83.8h1.2M433.8 134.7h1.2M436.0 64.2h1.2M435.8 57.8h1.2M436.0 73.0h1.2M435.8 48.9h1.2M435.1 139.2h1.2" stroke="#c4cc2c" stroke-width="1.2" stroke-opacity="0.85" fill="none"/>
<path d="M452.0 125.5h1.2M456.0 126.0h1.2M457.8 126.2h1.2M459.9 125.5h1.2M462.0 125.6h1.2M463.7 126.0h1.2M467.7 126.1h1.2M456.0 112.9h1.2M458.0 112.4h1.2M459.9 112.6h1.2M462.0 112.7h1.2M463.5 112.9h1.2M467.3 112.5h1.2M454.4 128.4h1.2M458.0 127.8h1.2M459.9 127.9h1.2M461.8 128.1h1.2M463.6 128.1h1.2M465.6 128.2h1.2M455.1 121.3h1.2M457.2 121.7h1.2M460.6 121.2h1.2M464.8 121.4h1.2M454.3 123.5h1.2M460.1 123.4h1.2M463.7 123.5h1.2M467.7 123.9h1.2M454.3 108.1h1.2M456.2 108.0h1.2M457.8 107.8h1.2M459.7 108.4h1.2M461.6 108.0h1.2M467.6 107.9h1.2M458.1 86.2h1.2M455.0 101.6h1.2M456.9 101.2h1.2M459.0 101.6h1.2M460.6 101.3h1.2M464.4 102.0h1.2M454.0 106.1h1.2M457.9 106.2h1.2M460.2 105.6h1.2M463.9 106.0h1.2M465.8 105.7h1.2M454.2 110.8h1.2M456.1 110.2h1.2M457.8 110.1h1.2M459.9 110.4h1.2M463.5 110.4h1.2M465.5 110.7h1.2M454.2 119.1h1.2M456.4 119.1h1.2M458.1 119.3h1.2M459.8 119.5h1.2M461.8 119.6h1.2M465.7 119.2h1.2M467.3 119.5h1.2M452.5 132.1h1.2M454.4 132.3h1.2M458.0 132.1h1.2M459.7 132.7h1.2M463.9 132.3h1.2M465.7 132.7h1.2M467.4 132.3h1.2M456.2 95.1h1.2M457.8 95.2h1.2M459.9 94.7h1.2M463.8 95.1h1.2M465.4 95.2h1.2M453.0 103.9h1.2M454.9 104.0h1.2M456.9 103.5h1.2M459.0 103.9h1.2M460.8 104.1h1.2M455.3 115.0h1.2M456.8 115.2h1.2M459.0 115.1h1.2M466.4 115.0h1.2M453.2 116.9h1.2M457.2 116.9h1.2M460.6 117.2h1.2M462.6 117.4h1.2M464.9 117.1h1.2M466.6 117.3h1.2M468.4 116.7h1.2M456.1 92.5h1.2M457.7 93.0h1.2M461.7 134.8h1.2M456.8 137.0h1.2M459.0 136.9h1.2M461.1 137.2h1.2M463.0 137.0h1.2M452.1 130.5h1.2M454.3 130.1h1.2M456.2 130.2h1.2M463.4 130.1h1.2M465.5 129.9h1.2M467.4 130.1h1.2M455.0 97.5h1.2M457.2 97.4h1.2M459.1 97.1h1.2M460.6 96.9h1.2M464.7 96.9h1.2M457.3 83.9h1.2M460.8 83.6h1.2M460.0 99.6h1.2M460.2 61.5h1.2M460.0 81.3h1.2M459.9 90.3h1.2" stroke="#f99088" stroke-width="1.2" stroke-opacity="0.8" fill="none"/>
<path d="M454.0 125.7h1.2M465.4 126.2h1.2M452.1 112.4h1.2M454.1 112.3h1.2M465.4 112.3h1.2M456.4 128.2h1.2M453.1 121.1h1.2M459.0 121.3h1.2M462.9 121.6h1.2M466.5 121.6h1.2M452.4 123.8h1.2M456.0 123.3h1.2M458.0 123.8h1.2M461.6 123.9h1.2M465.6 123.8h1.2M452.1 107.9h1.2M464.0 108.6h1.2M465.5 107.9h1.2M459.6 86.3h1.2M461.7 85.9h1.2M462.7 101.5h1.2M455.8 106.2h1.2M461.6 106.1h1.2M461.9 110.4h1.2M452.2 119.1h1.2M463.6 119.0h1.2M455.8 132.5h1.2M461.9 132.7h1.2M454.4 95.3h1.2M462.1 94.6h1.2M462.9 103.4h1.2M464.8 103.6h1.2M466.3 103.5h1.2M453.4 114.6h1.2M461.0 114.8h1.2M462.7 114.6h1.2M464.5 115.0h1.2M451.1 117.0h1.2M455.2 117.2h1.2M458.9 117.4h1.2M460.1 92.8h1.2M461.9 92.4h1.2M463.6 93.0h1.2M456.1 134.7h1.2M458.1 134.6h1.2M459.7 134.4h1.2M463.6 134.4h1.2M457.7 130.4h1.2M459.7 130.3h1.2M461.6 130.5h1.2M462.6 97.1h1.2M458.9 84.1h1.2M463.0 83.8h1.2M459.7 139.5h1.2M459.9 79.2h1.2M458.3 99.0h1.2M461.6 99.2h1.2" stroke="#c4cc2c" stroke-width="1.2" stroke-opacity="0.85" fill="none"/>
<path d="M476.2 121.2h1.2M481.8 121.1h1.2M483.8 121.1h1.2M485.5 121.8h1.2M491.3 121.5h1.2M476.6 123.3h1.2M480.2 123.9h1.2M484.0 123.7h1.2M486.0 123.7h1.2M487.7 123.6h1.2M489.6 123.5h1.2M475.3 103.6h1.2M477.2 103.5h1.2M478.9 103.8h1.2M484.7 103.9h1.2M488.6 103.5h1.2M490.7 104.0h1.2M476.5 110.8h1.2M478.0 110.6h1.2M483.6 110.3h1.2M485.9 110.8h1.2M482.1 112.5h1.2M483.7 112.7h1.2M487.7 112.4h1.2M489.5 112.8h1.2M483.7 114.7h1.2M486.0 114.9h1.2M487.9 114.7h1.2M489.9 115.1h1.2M477.3 119.0h1.2M479.1 119.4h1.2M480.8 119.4h1.2M482.7 119.0h1.2M485.0 119.3h1.2M486.6 119.1h1.2M475.4 105.6h1.2M479.4 105.7h1.2M481.1 106.2h1.2M490.6 106.2h1.2M492.3 106.1h1.2M475.1 108.1h1.2M477.3 108.1h1.2M481.1 108.0h1.2M483.2 108.2h1.2M484.8 108.2h1.2M487.0 108.1h1.2M488.4 108.1h1.2M490.6 108.5h1.2M492.2 107.9h1.2M478.5 101.6h1.2M480.3 101.7h1.2M481.9 101.3h1.2M483.9 101.3h1.2M485.6 101.4h1.2M487.6 101.8h1.2M477.3 92.4h1.2M478.9 93.0h1.2M481.0 92.8h1.2M485.1 92.6h1.2M486.9 92.9h1.2M490.5 93.0h1.2M475.3 99.5h1.2M477.5 99.6h1.2M481.2 99.2h1.2M482.8 99.7h1.2M485.0 99.4h1.2M486.8 99.3h1.2M488.4 99.7h1.2M479.8 117.3h1.2M484.2 116.7h1.2M485.6 117.1h1.2M487.8 117.2h1.2M478.2 95.2h1.2M483.6 94.6h1.2M485.8 94.8h1.2M489.8 95.0h1.2M480.1 90.6h1.2M482.2 90.9h1.2M483.9 90.5h1.2M487.8 90.3h1.2M479.9 96.8h1.2M481.7 97.2h1.2M484.0 97.2h1.2M487.8 97.1h1.2M484.7 130.4h1.2M481.3 128.3h1.2M485.1 127.8h1.2M486.7 127.9h1.2M482.3 73.2h1.2M484.0 73.1h1.2M483.9 132.9h1.2M479.4 125.5h1.2M484.7 125.9h1.2M482.9 83.5h1.2M484.6 83.5h1.2M483.1 79.6h1.2M483.9 81.5h1.2M483.9 77.1h1.2M482.9 64.3h1.2M483.2 134.3h1.2" stroke="#f99c84" stroke-width="1.2" stroke-opacity="0.8" fill="none"/>
<path d="M478.3 121.5h1.2M480.1 121.5h1.2M487.9 121.6h1.2M489.8 121.3h1.2M483.7 86.0h1.2M478.0 123.8h1.2M482.0 124.0h1.2M491.5 123.5h1.2M480.8 103.9h1.2M483.1 104.1h1.2M486.9 104.1h1.2M492.4 104.0h1.2M480.1 110.6h1.2M482.2 110.1h1.2M487.7 110.2h1.2M489.4 110.5h1.2M491.6 110.4h1.2M478.5 112.5h1.2M479.9 112.5h1.2M485.7 112.7h1.2M476.4 114.6h1.2M478.3 114.8h1.2M480.2 114.6h1.2M481.9 115.1h1.2M491.7 115.2h1.2M488.6 119.5h1.2M490.7 119.5h1.2M477.5 105.6h1.2M483.2 105.8h1.2M485.0 105.9h1.2M486.9 106.0h1.2M488.8 106.3h1.2M479.2 108.5h1.2M489.7 101.5h1.2M475.5 92.8h1.2M483.1 93.0h1.2M488.6 92.5h1.2M492.3 92.7h1.2M479.1 99.2h1.2M490.3 99.5h1.2M492.6 99.5h1.2M481.8 88.5h1.2M484.2 88.2h1.2M485.6 88.6h1.2M478.2 117.4h1.2M481.9 117.1h1.2M489.7 117.2h1.2M480.0 95.1h1.2M481.9 95.3h1.2M487.7 94.6h1.2M485.9 90.6h1.2M485.7 97.3h1.2M482.9 130.0h1.2M482.8 127.9h1.2M486.0 72.5h1.2M481.3 125.9h1.2M482.8 125.5h1.2M486.8 126.2h1.2M488.9 125.7h1.2M485.1 79.1h1.2M483.7 57.8h1.2M484.9 64.1h1.2M484.9 134.4h1.2M482.9 139.0h1.2M484.7 138.9h1.2" stroke="#c4cc2c" stroke-width="1.2" stroke-opacity="0.85" fill="none"/>
<path d="M506.1 95.1h1.2M501.5 121.3h1.2M503.2 121.2h1.2M504.8 121.6h1.2M509.1 121.7h1.2M512.7 121.5h1.2M514.5 121.2h1.2M503.2 105.6h1.2M509.0 106.1h1.2M510.8 105.7h1.2M512.5 105.7h1.2M514.8 106.0h1.2M501.2 101.9h1.2M503.2 101.5h1.2M504.8 101.9h1.2M506.9 101.4h1.2M509.1 101.8h1.2M510.8 101.6h1.2M512.4 101.8h1.2M514.6 101.2h1.2M499.2 117.4h1.2M501.3 117.0h1.2M508.9 117.0h1.2M510.7 116.9h1.2M512.4 117.0h1.2M514.5 116.7h1.2M516.5 117.1h1.2M508.6 123.3h1.2M510.5 123.9h1.2M512.9 123.4h1.2M514.7 123.8h1.2M501.0 108.1h1.2M505.0 108.3h1.2M510.8 108.1h1.2M512.5 107.9h1.2M501.2 110.3h1.2M503.1 110.6h1.2M505.1 110.4h1.2M507.2 110.2h1.2M509.1 110.2h1.2M512.7 110.0h1.2M514.6 110.1h1.2M516.7 110.4h1.2M501.0 112.7h1.2M503.2 112.9h1.2M505.1 112.9h1.2M507.1 112.6h1.2M508.6 112.8h1.2M514.3 112.6h1.2M506.1 115.1h1.2M508.1 114.5h1.2M509.9 114.5h1.2M511.6 115.0h1.2M513.5 114.8h1.2M503.4 125.9h1.2M504.9 125.7h1.2M506.8 125.9h1.2M510.5 126.1h1.2M514.5 126.0h1.2M507.7 130.5h1.2M509.5 129.9h1.2M504.2 88.0h1.2M505.9 88.4h1.2M511.6 88.4h1.2M502.3 118.9h1.2M504.1 119.4h1.2M506.2 119.3h1.2M508.1 119.5h1.2M511.4 119.5h1.2M513.8 119.4h1.2M502.1 103.8h1.2M511.5 103.7h1.2M513.5 104.0h1.2M500.3 99.3h1.2M502.3 99.7h1.2M511.9 99.5h1.2M500.3 96.9h1.2M502.2 96.8h1.2M511.6 97.5h1.2M515.7 97.3h1.2M505.9 93.0h1.2M511.8 92.7h1.2M513.8 92.8h1.2M505.3 90.2h1.2M509.1 90.4h1.2M510.6 90.5h1.2M507.9 52.7h1.2M505.3 128.3h1.2M506.7 128.2h1.2M508.9 128.2h1.2M507.0 66.5h1.2M508.9 83.7h1.2M507.9 77.2h1.2M507.9 61.4h1.2M508.0 132.2h1.2M508.2 134.9h1.2" stroke="#f99c84" stroke-width="1.2" stroke-opacity="0.8" fill="none"/>
<path d="M504.3 94.9h1.2M507.6 94.9h1.2M510.0 95.0h1.2M511.9 94.9h1.2M499.4 121.1h1.2M507.2 121.8h1.2M510.5 121.8h1.2M516.3 121.1h1.2M501.3 106.2h1.2M505.3 105.7h1.2M506.7 105.7h1.2M503.1 117.3h1.2M505.3 116.8h1.2M506.7 116.7h1.2M499.2 124.0h1.2M501.5 123.5h1.2M503.3 123.9h1.2M505.0 123.6h1.2M507.0 123.7h1.2M516.5 123.7h1.2M503.0 108.4h1.2M506.9 108.1h1.2M508.9 108.4h1.2M514.4 108.3h1.2M499.3 110.2h1.2M510.6 110.1h1.2M510.8 112.2h1.2M512.8 112.6h1.2M500.2 114.5h1.2M502.0 114.8h1.2M503.8 115.0h1.2M515.5 114.5h1.2M501.5 125.6h1.2M509.0 125.9h1.2M512.7 125.6h1.2M505.8 130.5h1.2M507.7 88.1h1.2M509.7 88.6h1.2M509.9 119.5h1.2M500.3 104.0h1.2M503.9 103.6h1.2M506.2 103.9h1.2M507.9 103.8h1.2M509.5 103.7h1.2M515.7 104.0h1.2M503.8 99.0h1.2M505.9 99.0h1.2M507.9 99.5h1.2M510.0 99.5h1.2M513.4 99.2h1.2M515.3 99.7h1.2M504.1 96.9h1.2M505.8 97.4h1.2M507.8 97.2h1.2M509.9 97.1h1.2M513.6 97.0h1.2M502.3 93.1h1.2M504.0 92.6h1.2M508.1 92.8h1.2M509.7 92.4h1.2M507.2 90.8h1.2M506.2 79.5h1.2M508.1 79.5h1.2M509.6 79.6h1.2M506.7 86.4h1.2M508.9 86.0h1.2M510.7 127.8h1.2M508.8 66.3h1.2M507.0 83.9h1.2M507.9 68.4h1.2M507.7 75.1h1.2M507.8 138.9h1.2M507.9 136.7h1.2" stroke="#c4cc2c" stroke-width="1.2" stroke-opacity="0.85" fill="none"/>
<path d="M525.0 130.3h1.2M526.9 129.9h1.2M529.0 130.0h1.2M536.6 130.6h1.2M524.0 114.8h1.2M525.9 114.5h1.2M528.1 115.2h1.2M529.8 114.9h1.2M533.7 115.0h1.2M536.0 114.8h1.2M539.3 114.5h1.2M530.7 88.2h1.2M532.6 88.7h1.2M523.5 117.1h1.2M525.4 117.2h1.2M526.9 116.7h1.2M528.8 117.3h1.2M531.2 117.2h1.2M535.0 117.3h1.2M540.5 117.3h1.2M526.3 107.9h1.2M529.9 108.2h1.2M535.9 108.4h1.2M523.1 119.6h1.2M526.9 119.2h1.2M534.7 118.9h1.2M525.2 132.6h1.2M526.9 132.4h1.2M530.8 132.8h1.2M532.9 132.6h1.2M538.6 132.3h1.2M527.3 110.6h1.2M532.6 110.2h1.2M535.0 110.4h1.2M538.6 110.6h1.2M524.2 103.8h1.2M526.0 103.6h1.2M537.4 103.9h1.2M539.7 103.9h1.2M525.0 121.5h1.2M532.9 121.6h1.2M536.4 121.2h1.2M538.8 121.8h1.2M524.2 97.4h1.2M526.3 96.8h1.2M529.8 97.2h1.2M534.1 97.5h1.2M536.0 97.4h1.2M527.4 105.9h1.2M530.9 105.8h1.2M536.4 106.0h1.2M538.8 106.2h1.2M529.9 92.9h1.2M531.8 92.7h1.2M533.8 92.9h1.2M530.8 84.2h1.2M533.1 83.9h1.2M523.2 99.7h1.2M525.5 99.0h1.2M529.3 99.2h1.2M530.8 99.7h1.2M533.0 99.3h1.2M540.2 99.5h1.2M527.8 94.9h1.2M530.0 94.9h1.2M531.9 95.1h1.2M533.6 95.1h1.2M526.9 112.5h1.2M528.8 112.9h1.2M531.0 112.4h1.2M532.8 112.4h1.2M534.9 112.7h1.2M536.9 112.3h1.2M538.4 112.5h1.2M540.7 112.3h1.2M525.4 125.9h1.2M527.1 126.0h1.2M528.9 125.6h1.2M532.6 126.1h1.2M536.5 125.5h1.2M538.7 125.8h1.2M525.2 123.6h1.2M528.9 123.7h1.2M532.9 123.5h1.2M536.7 123.7h1.2M540.3 123.9h1.2M526.0 128.3h1.2M528.0 127.7h1.2M530.1 128.1h1.2M531.8 127.8h1.2M533.9 128.0h1.2M535.7 128.4h1.2M539.4 127.7h1.2M530.2 86.1h1.2M531.6 85.8h1.2M534.0 85.7h1.2M532.7 74.9h1.2M525.4 101.5h1.2M527.3 101.7h1.2M529.3 101.5h1.2M531.1 101.7h1.2M532.8 101.9h1.2M534.5 101.2h1.2M536.5 101.8h1.2M538.8 101.2h1.2M533.8 90.4h1.2M531.7 64.3h1.2M532.0 82.0h1.2M531.9 137.1h1.2M531.8 139.4h1.2M532.1 141.3h1.2" stroke="#f99c84" stroke-width="1.2" stroke-opacity="0.8" fill="none"/>
<path d="M530.7 130.5h1.2M532.7 129.9h1.2M534.5 130.4h1.2M538.7 130.6h1.2M531.7 114.8h1.2M537.7 114.7h1.2M532.7 117.0h1.2M536.4 117.2h1.2M538.6 117.3h1.2M528.2 108.0h1.2M532.2 108.0h1.2M533.9 108.2h1.2M537.3 108.0h1.2M525.0 119.2h1.2M529.2 119.6h1.2M531.0 119.4h1.2M533.0 119.1h1.2M536.9 119.4h1.2M538.8 119.1h1.2M540.5 119.2h1.2M529.0 132.2h1.2M534.8 132.5h1.2M536.5 132.5h1.2M523.4 110.4h1.2M525.5 110.7h1.2M529.0 110.3h1.2M530.9 110.3h1.2M536.5 110.6h1.2M540.4 110.6h1.2M528.2 104.0h1.2M529.8 103.7h1.2M531.7 103.7h1.2M534.1 103.4h1.2M535.7 103.8h1.2M523.5 121.8h1.2M527.3 121.2h1.2M529.2 121.7h1.2M531.2 121.1h1.2M534.6 121.2h1.2M540.2 121.7h1.2M527.8 96.9h1.2M532.0 97.4h1.2M537.5 97.2h1.2M539.3 97.5h1.2M525.0 106.1h1.2M529.2 106.0h1.2M532.6 105.6h1.2M534.6 105.8h1.2M527.2 99.3h1.2M534.9 99.4h1.2M536.4 99.2h1.2M538.8 99.3h1.2M535.7 95.2h1.2M523.5 112.6h1.2M525.4 112.6h1.2M530.8 126.1h1.2M534.9 125.6h1.2M523.6 123.8h1.2M527.4 123.5h1.2M531.2 123.5h1.2M535.0 123.8h1.2M538.7 123.8h1.2M524.2 128.1h1.2M537.7 127.9h1.2M530.7 75.1h1.2M529.7 90.5h1.2M531.7 90.5h1.2M530.1 81.4h1.2M533.9 81.6h1.2M531.7 73.1h1.2" stroke="#c4cc2c" stroke-width="1.2" stroke-opacity="0.85" fill="none"/>
<path d="M380.5 146V107.4H396.8V146" fill="none" stroke="#f9a25a" stroke-width="1.15"/>
<path d="M388.5 93.6V121.0M384.2 93.6h8.6M384.2 121.0h8.6" fill="none" stroke="#f9a25a" stroke-width="1.2"/>
<path d="M404.5 146V102.4H420.8V146" fill="none" stroke="#f8787c" stroke-width="1.15"/>
<path d="M412.5 85.3V120.1M408.2 85.3h8.6M408.2 120.1h8.6" fill="none" stroke="#f8787c" stroke-width="1.2"/>
<path d="M428.5 146V105.2H444.8V146" fill="none" stroke="#f8787c" stroke-width="1.15"/>
<path d="M436.5 86.4V123.4M432.2 86.4h8.6M432.2 123.4h8.6" fill="none" stroke="#f8787c" stroke-width="1.2"/>
<path d="M452.5 146V117.6H468.8V146" fill="none" stroke="#f8787c" stroke-width="1.15"/>
<path d="M460.5 104.4V132.4M456.2 104.4h8.6M456.2 132.4h8.6" fill="none" stroke="#f8787c" stroke-width="1.2"/>
<path d="M476.5 146V107.0H492.8V146" fill="none" stroke="#bcba22" stroke-width="1.15"/>
<path d="M484.5 92.5V122.0M480.2 92.5h8.6M480.2 122.0h8.6" fill="none" stroke="#bcba22" stroke-width="1.2"/>
<path d="M500.5 146V109.0H516.8V146" fill="none" stroke="#bcba22" stroke-width="1.15"/>
<path d="M508.5 94.4V123.4M504.2 94.4h8.6M504.2 123.4h8.6" fill="none" stroke="#bcba22" stroke-width="1.2"/>
<path d="M524.5 146V113.4H540.8V146" fill="none" stroke="#bcba22" stroke-width="1.15"/>
<path d="M532.5 100.0V126.6M528.2 100.0h8.6M528.2 126.6h8.6" fill="none" stroke="#bcba22" stroke-width="1.2"/>
<path d="M377.0 34.300000000000004V146H544.5" fill="none" stroke="#2626d4" stroke-width="1.5"/>
<path d="M373.6 146.0H377.0" stroke="#2626d4" stroke-width="1.4"/>
<text class="d" x="372.3" y="149.0" font-size="8.2" font-weight="bold" fill="#2828da" text-anchor="end">0</text>
<path d="M373.6 123.9H377.0" stroke="#2626d4" stroke-width="1.4"/>
<text class="d" x="372.3" y="126.9" font-size="8.2" font-weight="bold" fill="#2828da" text-anchor="end">20</text>
<path d="M373.6 101.8H377.0" stroke="#2626d4" stroke-width="1.4"/>
<text class="d" x="372.3" y="104.8" font-size="8.2" font-weight="bold" fill="#2828da" text-anchor="end">40</text>
<path d="M373.6 79.8H377.0" stroke="#2626d4" stroke-width="1.4"/>
<text class="d" x="372.3" y="82.8" font-size="8.2" font-weight="bold" fill="#2828da" text-anchor="end">60</text>
<path d="M373.6 57.7H377.0" stroke="#2626d4" stroke-width="1.4"/>
<text class="d" x="372.3" y="60.7" font-size="8.2" font-weight="bold" fill="#2828da" text-anchor="end">80</text>
<path d="M373.6 35.6H377.0" stroke="#2626d4" stroke-width="1.4"/>
<text class="d" x="372.3" y="38.6" font-size="8.2" font-weight="bold" fill="#2828da" text-anchor="end">100</text>
<text class="d" x="402" y="22.6" font-size="10.3" fill="#2828da" stroke-width="0.35" textLength="117.5" lengthAdjust="spacingAndGlyphs">Antigen vesicle count</text>
<text class="d" transform="translate(350.8 88.5) rotate(-90)" font-size="9.3" fill="#2828da" text-anchor="middle" textLength="28" lengthAdjust="spacingAndGlyphs">Count</text>
<text class="d" transform="translate(384.0 168.0) rotate(-45)" font-size="9.3" fill="#2828da" text-anchor="middle" textLength="20.3" lengthAdjust="spacingAndGlyphs">EGFP</text>
<text class="d" transform="translate(407.3 167.4) rotate(-45)" font-size="9.3" fill="#2828da" text-anchor="middle">Rab7WT</text>
<text class="d" transform="translate(430.8 167.4) rotate(-45)" font-size="9.3" fill="#2828da" text-anchor="middle">Rab7CA</text>
<text class="d" transform="translate(454.5 167.4) rotate(-45)" font-size="9.3" fill="#2828da" text-anchor="middle">Rab7DN</text>
<text class="d" transform="translate(477.7 167.4) rotate(-45)" font-size="9.3" fill="#2828da" text-anchor="middle">Rab9WT</text>
<text class="d" transform="translate(502.4 167.4) rotate(-45)" font-size="9.3" fill="#2828da" text-anchor="middle">Rab9CA</text>
<text class="d" transform="translate(526.3 167.4) rotate(-45)" font-size="9.3" fill="#2828da" text-anchor="middle">Rab9DN</text>
<path d="M388.8 58.2H412.5" stroke="#5454e2" stroke-width="1.1"/>
<text class="d" x="400.6" y="58.2" font-size="7.5" font-weight="bold" fill="#2828da" stroke="none" text-anchor="middle" letter-spacing="0.7">*</text>
<path d="M388.8 48.2H460.5" stroke="#5454e2" stroke-width="1.1"/>
<text class="d" x="424.6" y="48.7" font-size="7.5" font-weight="bold" fill="#2828da" stroke="none" text-anchor="middle" letter-spacing="0.7">****</text>
<path d="M388.8 37.5H529.5" stroke="#5454e2" stroke-width="1.1"/>
<text class="d" x="459.1" y="37.7" font-size="7.5" font-weight="bold" fill="#2828da" stroke="none" text-anchor="middle" letter-spacing="0.7">**</text>
<path d="M381.2 281.3h1.2M390.7 281.3h1.2M392.4 281.4h1.2M383.3 300.7h1.2M385.2 300.7h1.2M386.9 300.3h1.2M388.6 300.2h1.2M390.7 300.2h1.2M392.7 300.4h1.2M380.1 304.7h1.2M389.7 304.5h1.2M391.5 304.3h1.2M393.4 304.8h1.2M381.2 294.1h1.2M386.7 293.7h1.2M392.7 294.4h1.2M394.5 293.6h1.2M388.2 310.6h1.2M380.4 285.7h1.2M384.3 285.8h1.2M387.8 285.3h1.2M390.0 285.7h1.2M391.6 285.9h1.2M380.3 291.7h1.2M384.3 292.3h1.2M386.0 291.8h1.2M387.9 292.3h1.2M389.9 291.8h1.2M391.6 292.1h1.2M393.5 291.9h1.2M395.3 292.2h1.2M385.3 274.7h1.2M388.9 275.0h1.2M391.0 275.5h1.2M382.3 283.6h1.2M384.0 283.5h1.2M386.2 283.2h1.2M391.7 283.8h1.2M393.5 283.3h1.2M386.0 302.2h1.2M387.8 302.1h1.2M389.7 302.1h1.2M391.8 302.2h1.2M393.6 302.2h1.2M395.8 302.2h1.2M385.2 279.1h1.2M387.1 279.2h1.2M388.9 279.7h1.2M381.3 296.2h1.2M383.0 295.7h1.2M391.0 295.9h1.2M392.9 296.4h1.2M394.4 296.1h1.2M396.4 296.4h1.2M382.2 288.0h1.2M387.8 287.5h1.2M392.0 287.8h1.2M393.6 288.1h1.2M380.4 289.7h1.2M382.3 289.8h1.2M383.9 289.8h1.2M386.1 289.5h1.2M387.8 289.7h1.2M389.6 289.4h1.2M395.4 289.7h1.2M382.0 298.5h1.2M384.2 298.4h1.2M389.6 298.2h1.2M393.5 297.8h1.2M385.2 277.4h1.2M386.8 277.4h1.2M389.1 277.4h1.2M390.6 277.3h1.2M392.6 277.0h1.2M387.0 264.2h1.2M387.1 271.0h1.2M383.8 307.0h1.2M385.9 306.4h1.2M388.0 306.6h1.2M390.0 306.3h1.2M391.8 306.5h1.2M387.6 308.6h1.2M388.1 260.6h1.2M388.8 267.0h1.2" stroke="#f9a870" stroke-width="1.2" stroke-opacity="0.8" fill="none"/>
<path d="M383.0 281.5h1.2M384.8 281.8h1.2M386.9 281.4h1.2M388.7 281.3h1.2M394.4 281.4h1.2M381.5 300.3h1.2M394.4 300.2h1.2M382.3 304.2h1.2M383.8 304.2h1.2M386.0 304.5h1.2M388.1 304.3h1.2M395.5 304.7h1.2M379.6 294.0h1.2M383.3 293.6h1.2M384.8 294.1h1.2M388.8 294.1h1.2M390.5 293.7h1.2M396.7 293.9h1.2M382.1 285.6h1.2M386.3 285.6h1.2M393.4 285.5h1.2M395.8 285.8h1.2M382.1 292.0h1.2M387.1 275.0h1.2M387.8 283.2h1.2M389.9 283.7h1.2M380.4 302.5h1.2M382.0 302.5h1.2M384.3 302.0h1.2M390.6 279.3h1.2M379.1 295.7h1.2M385.3 296.2h1.2M386.7 296.3h1.2M389.1 296.4h1.2M384.0 288.0h1.2M386.0 287.3h1.2M389.6 288.0h1.2M391.6 290.0h1.2M393.6 289.5h1.2M386.0 298.1h1.2M388.0 297.9h1.2M391.7 298.3h1.2M381.3 277.3h1.2M383.2 277.6h1.2M394.6 277.3h1.2M388.7 265.0h1.2M388.6 271.1h1.2M387.2 273.1h1.2M388.7 272.6h1.2M388.1 268.4h1.2M386.8 267.0h1.2M387.9 241.4h1.2" stroke="#c4cc2c" stroke-width="1.2" stroke-opacity="0.85" fill="none"/>
<path d="M406.1 302.1h1.2M410.0 302.2h1.2M413.6 302.4h1.2M415.6 302.1h1.2M417.6 302.2h1.2M405.1 293.8h1.2M411.2 294.1h1.2M414.7 293.9h1.2M418.5 293.9h1.2M408.2 306.6h1.2M410.1 306.5h1.2M414.0 306.3h1.2M417.9 306.7h1.2M419.5 306.8h1.2M412.0 298.6h1.2M413.8 298.5h1.2M417.5 298.0h1.2M403.1 285.3h1.2M405.0 285.4h1.2M411.0 285.2h1.2M414.8 285.4h1.2M416.6 285.7h1.2M418.8 285.8h1.2M404.3 300.3h1.2M406.2 300.0h1.2M408.2 300.0h1.2M409.8 300.6h1.2M413.7 300.4h1.2M416.0 300.5h1.2M417.4 300.0h1.2M419.8 300.5h1.2M403.1 296.1h1.2M411.0 296.2h1.2M412.8 295.7h1.2M414.6 295.8h1.2M420.4 296.4h1.2M406.4 275.5h1.2M410.0 275.2h1.2M412.1 275.4h1.2M413.8 275.3h1.2M415.9 275.3h1.2M406.4 304.2h1.2M408.1 304.1h1.2M410.0 304.4h1.2M415.9 304.6h1.2M406.9 283.1h1.2M410.8 283.8h1.2M416.7 283.2h1.2M411.9 271.3h1.2M413.5 271.0h1.2M415.5 271.3h1.2M404.3 288.0h1.2M406.3 287.6h1.2M408.3 287.5h1.2M409.7 287.5h1.2M412.0 287.4h1.2M417.4 288.1h1.2M403.3 291.7h1.2M405.0 291.7h1.2M407.3 291.5h1.2M410.8 292.1h1.2M413.1 291.7h1.2M414.5 291.7h1.2M416.5 292.3h1.2M418.5 292.1h1.2M420.2 292.2h1.2M409.1 267.0h1.2M411.0 266.7h1.2M412.9 266.8h1.2M415.0 266.8h1.2M407.1 308.9h1.2M414.6 308.4h1.2M411.2 268.8h1.2M414.6 269.1h1.2M404.5 290.0h1.2M406.3 289.7h1.2M408.1 289.7h1.2M412.1 289.6h1.2M417.5 289.4h1.2M407.0 277.0h1.2M409.3 276.8h1.2M414.9 276.8h1.2M416.5 277.4h1.2M410.9 281.4h1.2M414.5 281.5h1.2M407.0 273.0h1.2M408.9 272.9h1.2M411.1 273.4h1.2M412.8 273.0h1.2M414.9 273.2h1.2M418.3 273.3h1.2M408.4 279.6h1.2M410.1 279.2h1.2M411.9 279.7h1.2M417.4 279.5h1.2M413.0 262.8h1.2M409.9 252.0h1.2M413.7 252.0h1.2M411.6 310.5h1.2M412.1 239.6h1.2M412.0 237.2h1.2M411.7 254.5h1.2M412.1 231.3h1.2" stroke="#f99088" stroke-width="1.2" stroke-opacity="0.8" fill="none"/>
<path d="M407.8 302.4h1.2M411.9 302.4h1.2M407.4 294.4h1.2M408.8 293.8h1.2M413.0 294.1h1.2M416.7 293.7h1.2M404.3 306.2h1.2M406.4 307.0h1.2M411.7 306.7h1.2M415.8 306.3h1.2M406.0 298.0h1.2M408.2 298.3h1.2M409.8 298.3h1.2M416.0 298.0h1.2M407.4 285.3h1.2M409.2 285.4h1.2M412.6 285.4h1.2M420.6 285.6h1.2M412.2 300.6h1.2M405.0 296.4h1.2M407.4 296.2h1.2M408.8 296.1h1.2M416.8 296.5h1.2M418.7 295.9h1.2M407.8 275.3h1.2M417.4 275.2h1.2M404.1 304.3h1.2M411.6 304.6h1.2M413.6 304.6h1.2M417.7 304.5h1.2M419.4 304.5h1.2M405.5 283.9h1.2M409.3 283.3h1.2M412.8 283.4h1.2M414.8 283.6h1.2M418.8 283.3h1.2M408.3 270.6h1.2M410.0 270.9h1.2M414.0 287.7h1.2M415.8 287.7h1.2M419.6 287.9h1.2M409.1 291.6h1.2M409.3 308.8h1.2M410.8 308.5h1.2M413.1 308.3h1.2M416.4 309.0h1.2M409.2 268.7h1.2M413.1 268.5h1.2M410.2 290.2h1.2M413.6 289.8h1.2M415.8 290.1h1.2M419.4 290.1h1.2M405.3 277.4h1.2M411.2 277.6h1.2M412.7 277.4h1.2M418.3 276.9h1.2M409.3 281.7h1.2M412.8 281.5h1.2M405.1 273.2h1.2M416.6 272.7h1.2M406.0 279.3h1.2M413.9 279.3h1.2M415.7 279.1h1.2M411.9 260.1h1.2M412.2 255.9h1.2M410.9 262.8h1.2M411.8 252.2h1.2M412.1 264.8h1.2M411.7 312.7h1.2M411.9 249.6h1.2M412.0 235.5h1.2M411.9 314.6h1.2" stroke="#c4cc2c" stroke-width="1.2" stroke-opacity="0.85" fill="none"/>
<path d="M428.3 298.5h1.2M430.3 298.1h1.2M431.9 298.0h1.2M433.9 297.9h1.2M436.2 298.3h1.2M438.1 298.1h1.2M439.5 298.2h1.2M441.4 298.0h1.2M436.2 295.7h1.2M438.0 296.1h1.2M439.5 296.4h1.2M441.5 296.3h1.2M443.6 296.0h1.2M427.5 300.1h1.2M433.1 300.7h1.2M435.2 299.9h1.2M436.9 300.4h1.2M438.5 300.6h1.2M442.6 300.1h1.2M444.3 300.3h1.2M431.0 283.4h1.2M434.9 283.5h1.2M436.6 283.9h1.2M438.8 283.7h1.2M440.5 283.8h1.2M432.0 302.4h1.2M434.1 302.3h1.2M435.8 302.4h1.2M438.1 302.3h1.2M441.6 302.1h1.2M434.8 266.4h1.2M436.8 267.1h1.2M428.2 293.7h1.2M430.0 294.2h1.2M434.0 294.4h1.2M435.6 294.0h1.2M439.5 293.9h1.2M441.3 294.2h1.2M430.3 281.1h1.2M434.3 281.8h1.2M435.8 281.8h1.2M439.6 281.4h1.2M441.4 281.6h1.2M429.1 291.9h1.2M431.4 291.5h1.2M432.9 292.1h1.2M435.2 291.8h1.2M436.8 291.6h1.2M438.8 292.0h1.2M440.5 291.9h1.2M442.5 292.0h1.2M430.0 290.0h1.2M432.3 289.5h1.2M439.5 289.9h1.2M429.1 304.5h1.2M436.8 304.5h1.2M438.5 304.7h1.2M440.9 304.8h1.2M431.2 285.9h1.2M432.8 285.5h1.2M434.7 285.8h1.2M439.0 285.2h1.2M440.9 285.4h1.2M442.8 285.9h1.2M434.0 306.9h1.2M435.6 306.9h1.2M439.5 307.0h1.2M441.3 306.6h1.2M436.1 239.5h1.2M432.0 264.4h1.2M436.2 264.3h1.2M437.7 265.0h1.2M439.8 264.9h1.2M430.3 287.3h1.2M431.9 288.1h1.2M433.7 288.0h1.2M435.9 288.0h1.2M443.8 287.7h1.2M428.5 308.8h1.2M431.9 309.1h1.2M438.0 308.8h1.2M436.6 273.4h1.2M438.9 272.8h1.2M436.1 274.9h1.2M437.8 275.3h1.2M432.2 313.1h1.2M434.3 312.6h1.2M435.7 313.3h1.2M437.8 313.1h1.2M431.3 279.6h1.2M432.9 279.0h1.2M435.1 279.0h1.2M436.6 279.1h1.2M438.8 279.7h1.2M440.5 278.9h1.2M442.3 278.9h1.2M433.9 258.5h1.2M435.8 243.5h1.2M434.0 311.2h1.2M436.0 310.9h1.2M437.6 310.9h1.2M436.9 268.6h1.2M434.3 260.1h1.2M435.9 260.5h1.2M434.8 277.2h1.2M436.8 277.6h1.2M436.2 262.8h1.2M434.8 249.7h1.2M436.7 250.1h1.2M435.8 254.1h1.2M435.6 246.0h1.2" stroke="#f99088" stroke-width="1.2" stroke-opacity="0.8" fill="none"/>
<path d="M443.3 298.5h1.2M428.3 295.8h1.2M430.3 296.3h1.2M432.3 296.1h1.2M433.7 296.3h1.2M429.4 300.5h1.2M431.3 300.1h1.2M440.9 300.1h1.2M429.4 283.4h1.2M433.2 283.4h1.2M442.8 283.1h1.2M430.3 302.0h1.2M439.9 302.2h1.2M431.9 294.2h1.2M438.1 294.0h1.2M443.3 293.9h1.2M431.9 281.2h1.2M437.8 281.8h1.2M427.4 291.6h1.2M444.2 291.6h1.2M434.1 290.1h1.2M435.9 290.0h1.2M437.9 289.5h1.2M441.3 289.7h1.2M431.2 304.4h1.2M433.0 304.5h1.2M434.8 304.5h1.2M442.5 304.2h1.2M429.2 285.3h1.2M436.8 285.2h1.2M430.2 306.9h1.2M431.8 306.4h1.2M437.9 306.4h1.2M430.0 264.9h1.2M433.9 264.7h1.2M441.5 264.8h1.2M428.5 287.4h1.2M437.9 287.8h1.2M439.6 287.5h1.2M441.7 287.4h1.2M430.2 309.0h1.2M434.3 308.6h1.2M435.6 308.9h1.2M439.5 309.1h1.2M441.4 308.6h1.2M443.4 308.5h1.2M432.8 272.9h1.2M434.7 272.8h1.2M432.3 275.1h1.2M433.8 274.9h1.2M439.6 275.3h1.2M439.6 312.7h1.2M429.0 279.6h1.2M435.6 258.1h1.2M437.9 258.1h1.2M434.7 268.7h1.2M437.6 260.6h1.2M433.0 277.0h1.2M438.8 277.3h1.2M435.7 314.9h1.2M435.7 235.5h1.2" stroke="#c4cc2c" stroke-width="1.2" stroke-opacity="0.85" fill="none"/>
<path d="M452.3 296.4h1.2M456.2 296.4h1.2M458.0 295.9h1.2M465.6 296.1h1.2M467.4 296.0h1.2M456.1 279.7h1.2M458.2 279.6h1.2M461.8 279.2h1.2M463.7 279.3h1.2M465.5 279.4h1.2M451.1 273.1h1.2M455.0 272.9h1.2M457.3 273.0h1.2M460.6 273.3h1.2M462.6 272.9h1.2M464.9 272.7h1.2M466.6 272.8h1.2M468.6 273.1h1.2M454.5 302.4h1.2M456.3 302.5h1.2M459.7 302.5h1.2M463.5 302.6h1.2M465.6 302.7h1.2M452.3 277.4h1.2M454.5 277.1h1.2M456.0 277.2h1.2M458.2 277.0h1.2M465.5 277.3h1.2M467.6 276.9h1.2M454.3 304.3h1.2M458.1 304.9h1.2M463.6 304.7h1.2M457.7 269.2h1.2M460.0 268.6h1.2M461.8 268.7h1.2M463.7 269.0h1.2M458.2 248.1h1.2M456.8 262.6h1.2M459.0 262.5h1.2M460.6 262.6h1.2M460.2 237.7h1.2M451.5 287.8h1.2M453.3 288.1h1.2M460.8 287.7h1.2M462.5 287.7h1.2M464.5 288.0h1.2M468.5 287.5h1.2M454.0 300.6h1.2M456.4 300.0h1.2M459.8 300.2h1.2M461.9 300.1h1.2M463.8 300.1h1.2M465.7 300.4h1.2M458.8 266.5h1.2M453.4 285.4h1.2M455.2 285.8h1.2M458.7 285.6h1.2M460.9 285.8h1.2M462.7 285.7h1.2M451.4 289.7h1.2M453.0 290.1h1.2M455.4 289.5h1.2M459.2 290.0h1.2M461.0 289.7h1.2M462.6 289.4h1.2M464.9 290.0h1.2M452.5 294.1h1.2M456.0 293.8h1.2M457.7 293.9h1.2M460.0 293.9h1.2M461.6 293.8h1.2M463.9 294.0h1.2M465.5 294.4h1.2M467.3 294.1h1.2M451.5 298.0h1.2M457.1 297.9h1.2M459.0 298.5h1.2M466.3 298.0h1.2M468.6 298.4h1.2M455.1 270.9h1.2M462.7 270.9h1.2M452.0 291.6h1.2M457.7 291.8h1.2M459.8 291.6h1.2M463.7 292.2h1.2M465.8 291.7h1.2M461.1 306.8h1.2M466.7 306.5h1.2M457.3 260.2h1.2M458.9 260.6h1.2M456.1 308.7h1.2M458.1 250.2h1.2M459.9 249.6h1.2M462.1 250.1h1.2M452.4 281.7h1.2M454.5 281.5h1.2M456.0 281.4h1.2M457.7 281.5h1.2M459.9 281.3h1.2M467.2 281.6h1.2M460.6 256.1h1.2M462.8 255.9h1.2M456.3 252.3h1.2M461.5 251.8h1.2M465.5 252.2h1.2M462.9 310.7h1.2M454.0 283.3h1.2M456.3 283.2h1.2M457.8 283.4h1.2M460.2 283.7h1.2M463.5 283.7h1.2M465.9 283.9h1.2M454.3 275.0h1.2M456.3 275.1h1.2M459.7 275.4h1.2M465.9 274.8h1.2M459.9 239.7h1.2M459.0 224.6h1.2M458.9 241.6h1.2M460.9 241.7h1.2M459.7 265.0h1.2M461.8 264.6h1.2M459.6 258.3h1.2M459.0 243.3h1.2M460.7 243.2h1.2M460.2 235.0h1.2" stroke="#f99088" stroke-width="1.2" stroke-opacity="0.8" fill="none"/>
<path d="M454.3 296.1h1.2M459.8 295.9h1.2M461.8 296.3h1.2M464.0 296.1h1.2M452.4 279.3h1.2M454.4 279.3h1.2M459.9 279.6h1.2M467.4 279.5h1.2M453.0 273.0h1.2M458.8 273.2h1.2M458.2 302.6h1.2M461.6 302.1h1.2M460.0 276.8h1.2M461.7 277.2h1.2M463.5 277.3h1.2M452.3 304.8h1.2M455.9 304.2h1.2M459.8 304.8h1.2M462.1 304.1h1.2M465.6 304.7h1.2M467.6 304.2h1.2M454.3 269.0h1.2M455.8 269.1h1.2M465.8 268.6h1.2M459.8 247.8h1.2M462.1 247.9h1.2M463.0 262.3h1.2M455.1 287.8h1.2M456.8 287.9h1.2M459.1 287.6h1.2M466.6 287.6h1.2M457.7 300.6h1.2M456.8 266.8h1.2M461.1 266.6h1.2M462.8 266.4h1.2M457.2 285.6h1.2M464.9 285.9h1.2M466.5 285.2h1.2M457.3 289.5h1.2M466.7 289.8h1.2M468.4 289.6h1.2M454.2 294.2h1.2M453.5 298.4h1.2M455.2 298.0h1.2M460.9 297.9h1.2M463.0 298.0h1.2M464.8 298.1h1.2M457.1 270.9h1.2M458.9 270.8h1.2M461.0 270.9h1.2M464.7 270.7h1.2M454.0 292.1h1.2M456.2 291.9h1.2M462.1 291.8h1.2M467.6 291.8h1.2M453.2 306.3h1.2M454.9 306.8h1.2M457.3 306.6h1.2M459.1 306.9h1.2M462.7 306.9h1.2M464.6 306.9h1.2M460.6 260.6h1.2M462.5 260.1h1.2M457.7 309.0h1.2M459.6 308.8h1.2M462.0 309.1h1.2M463.9 308.4h1.2M461.9 281.1h1.2M463.7 281.7h1.2M465.6 281.6h1.2M457.2 256.6h1.2M459.1 256.5h1.2M454.5 252.0h1.2M457.9 252.1h1.2M460.1 251.7h1.2M463.7 251.7h1.2M454.9 310.5h1.2M457.3 310.8h1.2M459.2 310.5h1.2M460.9 310.5h1.2M464.7 310.7h1.2M461.6 283.5h1.2M458.0 274.7h1.2M461.8 274.9h1.2M463.8 275.3h1.2M461.0 224.7h1.2M458.0 264.5h1.2M459.9 313.3h1.2M460.0 220.8h1.2M459.7 254.3h1.2" stroke="#c4cc2c" stroke-width="1.2" stroke-opacity="0.85" fill="none"/>
<path d="M486.0 287.8h1.2M489.5 288.0h1.2M475.4 292.2h1.2M477.1 291.9h1.2M479.4 291.5h1.2M480.9 291.9h1.2M484.9 291.8h1.2M486.6 291.5h1.2M488.6 292.1h1.2M490.8 291.6h1.2M492.3 292.1h1.2M477.4 281.1h1.2M479.1 281.6h1.2M482.7 281.6h1.2M484.9 281.3h1.2M490.6 281.2h1.2M476.5 290.0h1.2M478.2 289.9h1.2M480.1 290.1h1.2M486.1 290.2h1.2M489.7 289.8h1.2M491.7 290.2h1.2M480.8 306.3h1.2M484.6 306.9h1.2M488.4 306.6h1.2M480.3 283.3h1.2M481.9 283.7h1.2M487.5 283.8h1.2M476.0 298.0h1.2M479.8 298.5h1.2M482.0 298.0h1.2M483.6 297.9h1.2M485.8 298.3h1.2M487.5 297.8h1.2M491.7 298.3h1.2M476.4 296.4h1.2M478.1 295.7h1.2M480.1 296.1h1.2M483.9 296.0h1.2M485.8 296.1h1.2M489.8 295.8h1.2M491.3 295.8h1.2M483.7 260.6h1.2M479.3 294.0h1.2M480.8 293.8h1.2M482.7 294.2h1.2M484.8 294.2h1.2M487.0 293.8h1.2M490.4 294.3h1.2M492.6 294.0h1.2M484.0 249.7h1.2M478.0 279.1h1.2M480.0 279.0h1.2M481.8 279.3h1.2M484.2 279.5h1.2M485.8 279.0h1.2M487.9 279.0h1.2M489.4 279.1h1.2M491.3 279.6h1.2M480.0 310.7h1.2M482.0 310.5h1.2M484.1 311.2h1.2M485.5 311.2h1.2M487.9 310.9h1.2M481.2 270.7h1.2M482.8 270.7h1.2M484.8 270.8h1.2M476.4 304.9h1.2M481.7 304.5h1.2M491.3 304.7h1.2M477.2 277.0h1.2M479.1 277.2h1.2M481.3 277.6h1.2M485.0 277.2h1.2M488.6 276.9h1.2M490.5 277.6h1.2M479.0 300.2h1.2M481.1 300.5h1.2M482.8 300.0h1.2M486.5 300.7h1.2M490.5 300.4h1.2M478.1 285.9h1.2M480.0 285.8h1.2M481.8 285.4h1.2M484.0 285.9h1.2M485.6 286.0h1.2M487.7 286.0h1.2M491.5 285.3h1.2M483.2 308.7h1.2M485.0 308.7h1.2M482.9 266.4h1.2M477.2 272.6h1.2M478.9 273.2h1.2M480.9 273.3h1.2M486.7 272.8h1.2M478.0 302.7h1.2M480.3 302.5h1.2M481.9 302.7h1.2M484.0 302.6h1.2M491.7 302.1h1.2M481.9 254.4h1.2M485.9 253.7h1.2M483.9 258.3h1.2M478.1 275.1h1.2M479.9 275.4h1.2M482.1 275.4h1.2M484.2 274.9h1.2M485.7 274.8h1.2M487.6 275.2h1.2M489.5 275.3h1.2M481.8 269.0h1.2M485.6 268.5h1.2M482.7 262.3h1.2M485.0 262.2h1.2M487.0 262.5h1.2M483.0 247.9h1.2M484.6 247.9h1.2M483.7 256.6h1.2" stroke="#f99c84" stroke-width="1.2" stroke-opacity="0.8" fill="none"/>
<path d="M476.4 287.7h1.2M478.5 287.5h1.2M480.2 287.3h1.2M481.9 287.7h1.2M483.7 287.4h1.2M487.9 287.5h1.2M491.8 288.0h1.2M482.7 292.0h1.2M481.0 281.3h1.2M486.6 281.8h1.2M488.5 281.7h1.2M481.7 289.8h1.2M483.8 289.7h1.2M487.6 289.6h1.2M479.2 306.4h1.2M483.0 306.2h1.2M486.7 306.9h1.2M476.3 283.8h1.2M478.1 283.3h1.2M484.0 283.6h1.2M485.8 283.1h1.2M489.7 283.6h1.2M491.7 283.8h1.2M478.0 298.0h1.2M489.8 298.4h1.2M481.8 295.9h1.2M488.0 296.2h1.2M475.3 294.3h1.2M477.0 294.1h1.2M488.5 294.4h1.2M476.3 279.6h1.2M479.0 271.1h1.2M486.5 270.7h1.2M488.5 271.2h1.2M478.4 304.9h1.2M480.3 304.3h1.2M483.7 304.5h1.2M485.7 304.4h1.2M487.5 304.7h1.2M489.7 304.7h1.2M482.7 264.3h1.2M485.1 264.2h1.2M483.0 276.8h1.2M487.0 277.1h1.2M477.2 300.2h1.2M484.9 300.5h1.2M488.5 300.4h1.2M476.3 285.4h1.2M489.7 285.7h1.2M484.6 266.8h1.2M483.1 273.1h1.2M484.6 272.8h1.2M488.4 273.2h1.2M490.8 272.9h1.2M476.6 302.2h1.2M485.9 302.1h1.2M487.9 302.3h1.2M489.5 302.3h1.2M483.7 254.3h1.2M479.9 269.0h1.2M484.0 269.1h1.2M487.4 268.8h1.2M480.9 262.3h1.2M483.8 222.8h1.2M483.8 224.5h1.2M484.0 241.5h1.2M483.6 312.7h1.2" stroke="#c4cc2c" stroke-width="1.2" stroke-opacity="0.85" fill="none"/>
<path d="M499.2 298.2h1.2M501.0 297.9h1.2M508.6 298.3h1.2M511.0 297.9h1.2M516.2 298.0h1.2M500.5 292.2h1.2M502.3 292.3h1.2M508.2 291.8h1.2M509.8 291.9h1.2M512.0 292.3h1.2M513.7 292.2h1.2M515.5 291.8h1.2M499.6 306.3h1.2M506.8 306.8h1.2M512.6 306.7h1.2M516.3 307.0h1.2M499.4 290.1h1.2M501.0 290.0h1.2M503.0 290.1h1.2M504.9 289.9h1.2M506.7 289.8h1.2M508.7 290.1h1.2M510.8 289.7h1.2M512.9 289.7h1.2M514.4 289.7h1.2M516.7 290.1h1.2M500.4 302.8h1.2M510.1 302.1h1.2M511.4 302.6h1.2M513.4 302.2h1.2M505.1 308.5h1.2M506.9 309.1h1.2M510.7 309.0h1.2M503.3 300.1h1.2M505.2 300.0h1.2M506.9 300.1h1.2M508.7 300.4h1.2M512.5 300.1h1.2M514.3 300.1h1.2M500.5 286.0h1.2M502.4 285.6h1.2M510.1 285.3h1.2M511.8 285.9h1.2M513.8 285.7h1.2M515.3 285.8h1.2M500.3 304.5h1.2M502.5 304.2h1.2M504.0 304.2h1.2M506.1 304.8h1.2M507.7 304.3h1.2M510.1 304.2h1.2M511.7 304.3h1.2M515.6 304.4h1.2M502.9 287.4h1.2M505.2 287.9h1.2M506.7 287.7h1.2M512.6 287.7h1.2M516.3 287.7h1.2M502.2 296.0h1.2M504.0 296.1h1.2M507.9 296.1h1.2M509.7 296.5h1.2M513.5 296.0h1.2M500.2 294.4h1.2M502.2 293.8h1.2M506.3 293.9h1.2M508.0 294.1h1.2M509.9 294.4h1.2M511.8 294.1h1.2M515.6 293.9h1.2M505.9 276.8h1.2M507.8 277.3h1.2M509.9 276.9h1.2M507.7 266.4h1.2M505.9 275.4h1.2M510.0 275.3h1.2M504.4 279.5h1.2M506.2 279.0h1.2M509.8 279.0h1.2M511.8 279.5h1.2M513.8 279.2h1.2M509.6 281.7h1.2M505.1 283.2h1.2M508.8 271.2h1.2M511.0 270.8h1.2M512.7 270.6h1.2M506.8 311.1h1.2M505.8 264.3h1.2M508.1 264.8h1.2M509.8 264.7h1.2M508.0 250.1h1.2M507.6 258.3h1.2M507.7 315.0h1.2" stroke="#f99c84" stroke-width="1.2" stroke-opacity="0.8" fill="none"/>
<path d="M503.2 298.3h1.2M504.8 298.6h1.2M506.8 297.9h1.2M512.4 297.9h1.2M514.7 297.9h1.2M504.3 292.1h1.2M506.3 291.5h1.2M501.1 306.3h1.2M503.4 306.5h1.2M504.9 306.7h1.2M508.8 306.3h1.2M510.6 306.5h1.2M514.7 306.6h1.2M502.4 302.6h1.2M504.1 302.6h1.2M505.8 302.0h1.2M507.6 302.7h1.2M515.7 302.7h1.2M509.1 308.9h1.2M501.2 300.6h1.2M510.9 300.4h1.2M504.4 285.3h1.2M506.3 285.7h1.2M507.7 286.0h1.2M513.7 304.6h1.2M499.1 287.3h1.2M501.1 288.0h1.2M508.7 287.5h1.2M510.7 287.5h1.2M514.5 287.5h1.2M505.8 295.8h1.2M511.7 295.9h1.2M504.3 294.3h1.2M513.5 293.7h1.2M507.8 275.0h1.2M502.3 279.0h1.2M508.0 279.5h1.2M502.4 281.5h1.2M504.2 281.1h1.2M506.2 281.7h1.2M507.8 281.5h1.2M511.8 281.1h1.2M513.9 281.5h1.2M503.0 283.9h1.2M506.9 283.2h1.2M508.7 283.8h1.2M510.5 283.8h1.2M512.5 283.4h1.2M503.1 271.1h1.2M505.3 271.0h1.2M506.7 271.1h1.2M509.0 310.6h1.2M508.1 252.4h1.2" stroke="#c4cc2c" stroke-width="1.2" stroke-opacity="0.85" fill="none"/>
<path d="M526.4 295.7h1.2M528.0 295.8h1.2M529.8 296.0h1.2M533.5 296.5h1.2M535.5 296.1h1.2M537.4 296.5h1.2M539.2 296.3h1.2M523.1 283.5h1.2M525.2 283.5h1.2M527.3 283.6h1.2M533.1 283.5h1.2M536.6 283.2h1.2M538.3 283.3h1.2M527.3 285.6h1.2M529.3 285.5h1.2M531.0 285.9h1.2M533.1 285.4h1.2M536.8 285.8h1.2M538.6 285.6h1.2M528.8 254.2h1.2M530.7 253.8h1.2M534.9 254.4h1.2M525.3 289.6h1.2M527.1 290.1h1.2M528.9 290.1h1.2M532.7 289.6h1.2M538.7 289.4h1.2M540.7 289.8h1.2M524.3 287.5h1.2M528.2 287.7h1.2M530.3 287.6h1.2M532.0 287.7h1.2M536.0 287.8h1.2M537.9 287.4h1.2M524.1 300.5h1.2M533.6 300.1h1.2M530.9 258.5h1.2M532.7 258.4h1.2M523.2 304.8h1.2M527.4 304.8h1.2M529.3 304.2h1.2M532.9 304.8h1.2M538.6 304.3h1.2M540.3 304.9h1.2M525.2 281.6h1.2M530.9 281.0h1.2M532.6 281.1h1.2M535.0 281.3h1.2M538.8 281.0h1.2M524.1 302.6h1.2M526.0 302.6h1.2M528.4 302.6h1.2M532.0 302.2h1.2M535.8 302.2h1.2M537.6 302.5h1.2M539.7 302.5h1.2M530.0 294.0h1.2M535.7 294.2h1.2M537.5 293.6h1.2M530.3 270.6h1.2M532.1 271.2h1.2M534.0 271.1h1.2M535.8 271.1h1.2M525.0 291.5h1.2M527.1 292.2h1.2M530.9 292.1h1.2M533.1 291.5h1.2M536.9 291.5h1.2M538.3 292.0h1.2M525.2 308.9h1.2M527.0 308.5h1.2M530.9 308.5h1.2M532.8 308.4h1.2M534.5 308.7h1.2M536.5 309.1h1.2M530.7 272.9h1.2M527.8 298.0h1.2M533.5 298.0h1.2M537.5 298.1h1.2M526.4 306.6h1.2M528.1 306.5h1.2M531.7 306.2h1.2M537.7 306.9h1.2M529.9 278.9h1.2M532.1 279.7h1.2M533.9 279.5h1.2M536.0 279.6h1.2M537.4 279.5h1.2M528.0 275.0h1.2M532.0 275.0h1.2M533.6 275.0h1.2M535.9 275.5h1.2M537.6 275.3h1.2M525.4 277.3h1.2M526.9 276.9h1.2M529.1 277.5h1.2M534.6 277.6h1.2M538.3 276.9h1.2M526.9 268.9h1.2M529.2 268.6h1.2M530.8 269.0h1.2M532.9 268.5h1.2M534.9 268.7h1.2M530.0 262.1h1.2M533.8 262.9h1.2M532.1 249.9h1.2M531.7 310.8h1.2M532.1 233.1h1.2M531.9 266.6h1.2M532.0 243.6h1.2M531.9 246.1h1.2" stroke="#f99c84" stroke-width="1.2" stroke-opacity="0.8" fill="none"/>
<path d="M524.5 296.2h1.2M531.9 296.4h1.2M529.0 283.3h1.2M531.1 283.7h1.2M534.9 283.8h1.2M540.7 283.9h1.2M525.2 285.7h1.2M534.5 285.3h1.2M532.6 254.1h1.2M523.4 289.4h1.2M530.9 289.5h1.2M534.7 289.5h1.2M536.6 289.9h1.2M526.3 287.3h1.2M533.6 288.0h1.2M539.7 287.7h1.2M526.1 300.0h1.2M528.3 300.6h1.2M529.8 299.9h1.2M532.1 300.1h1.2M536.0 300.6h1.2M537.4 300.4h1.2M539.8 300.6h1.2M525.2 304.3h1.2M530.9 304.2h1.2M534.8 304.5h1.2M536.9 304.6h1.2M527.1 281.8h1.2M529.2 281.6h1.2M536.4 281.5h1.2M530.2 302.1h1.2M534.1 302.7h1.2M526.2 294.2h1.2M527.9 294.1h1.2M531.7 293.8h1.2M533.8 293.7h1.2M528.4 271.0h1.2M529.2 292.3h1.2M534.7 291.7h1.2M529.0 308.4h1.2M538.6 309.0h1.2M532.7 273.3h1.2M524.0 298.3h1.2M526.1 298.4h1.2M529.8 297.9h1.2M531.7 298.3h1.2M535.7 298.4h1.2M539.5 297.9h1.2M530.3 306.8h1.2M533.9 307.0h1.2M536.0 306.3h1.2M524.1 279.3h1.2M526.0 279.2h1.2M528.2 279.0h1.2M539.3 278.9h1.2M524.3 275.1h1.2M526.0 274.9h1.2M530.0 275.0h1.2M539.6 274.9h1.2M531.1 277.3h1.2M533.1 276.8h1.2M536.6 276.8h1.2M536.9 268.9h1.2M532.0 262.2h1.2M530.7 312.7h1.2M532.9 313.3h1.2" stroke="#c4cc2c" stroke-width="1.2" stroke-opacity="0.85" fill="none"/>
<path d="M380.5 323.5V292.0H396.8V323.5" fill="none" stroke="#f9a25a" stroke-width="1.15"/>
<path d="M388.5 280.1V304.0M384.2 280.1h8.6M384.2 304.0h8.6" fill="none" stroke="#f9a25a" stroke-width="1.2"/>
<path d="M404.5 323.5V291.1H420.8V323.5" fill="none" stroke="#f8787c" stroke-width="1.15"/>
<path d="M412.5 274.4V307.0M408.2 274.4h8.6M408.2 307.0h8.6" fill="none" stroke="#f8787c" stroke-width="1.2"/>
<path d="M428.5 323.5V292.2H444.8V323.5" fill="none" stroke="#f8787c" stroke-width="1.15"/>
<path d="M436.5 275.0V309.9M432.2 275.0h8.6M432.2 309.9h8.6" fill="none" stroke="#f8787c" stroke-width="1.2"/>
<path d="M452.5 323.5V284.5H468.8V323.5" fill="none" stroke="#f8787c" stroke-width="1.15"/>
<path d="M460.5 260.4V308.1M456.2 260.4h8.6M456.2 308.1h8.6" fill="none" stroke="#f8787c" stroke-width="1.2"/>
<path d="M476.5 323.5V288.9H492.8V323.5" fill="none" stroke="#bcba22" stroke-width="1.15"/>
<path d="M484.5 273.1V305.6M480.2 273.1h8.6M480.2 305.6h8.6" fill="none" stroke="#bcba22" stroke-width="1.2"/>
<path d="M500.5 323.5V294.1H516.8V323.5" fill="none" stroke="#bcba22" stroke-width="1.15"/>
<path d="M508.5 282.3V306.0M504.2 282.3h8.6M504.2 306.0h8.6" fill="none" stroke="#bcba22" stroke-width="1.2"/>
<path d="M524.5 323.5V291.1H540.8V323.5" fill="none" stroke="#bcba22" stroke-width="1.15"/>
<path d="M532.5 275.0V307.0M528.2 275.0h8.6M528.2 307.0h8.6" fill="none" stroke="#bcba22" stroke-width="1.2"/>
<path d="M377.0 211.89999999999998V323.5H544.5" fill="none" stroke="#2626d4" stroke-width="1.5"/>
<path d="M373.6 323.5H377.0" stroke="#2626d4" stroke-width="1.4"/>
<text class="d" x="372.3" y="326.5" font-size="8.2" font-weight="bold" fill="#2828da" text-anchor="end">0</text>
<path d="M373.6 286.7H377.0" stroke="#2626d4" stroke-width="1.4"/>
<text class="d" x="372.3" y="289.7" font-size="8.2" font-weight="bold" fill="#2828da" text-anchor="end">100</text>
<path d="M373.6 250.0H377.0" stroke="#2626d4" stroke-width="1.4"/>
<text class="d" x="372.3" y="253.0" font-size="8.2" font-weight="bold" fill="#2828da" text-anchor="end">200</text>
<path d="M373.6 213.2H377.0" stroke="#2626d4" stroke-width="1.4"/>
<text class="d" x="372.3" y="216.2" font-size="8.2" font-weight="bold" fill="#2828da" text-anchor="end">300</text>
<text class="d" x="397" y="201" font-size="10.3" fill="#2828da" stroke-width="0.35" textLength="127" lengthAdjust="spacingAndGlyphs">Antigen vesicle volume</text>
<text class="d" transform="translate(350.8 263.5) rotate(-90)" font-size="9.3" fill="#2828da" text-anchor="middle" textLength="67" lengthAdjust="spacingAndGlyphs">Volume (µm3)</text>
<text class="d" transform="translate(384.0 347.1) rotate(-45)" font-size="9.3" fill="#2828da" text-anchor="middle" textLength="20.3" lengthAdjust="spacingAndGlyphs">EGFP</text>
<text class="d" transform="translate(407.3 346.5) rotate(-45)" font-size="9.3" fill="#2828da" text-anchor="middle">Rab7WT</text>
<text class="d" transform="translate(430.8 346.5) rotate(-45)" font-size="9.3" fill="#2828da" text-anchor="middle">Rab7CA</text>
<text class="d" transform="translate(454.5 346.5) rotate(-45)" font-size="9.3" fill="#2828da" text-anchor="middle">Rab7DN</text>
<text class="d" transform="translate(477.7 346.5) rotate(-45)" font-size="9.3" fill="#2828da" text-anchor="middle">Rab9WT</text>
<text class="d" transform="translate(502.4 346.5) rotate(-45)" font-size="9.3" fill="#2828da" text-anchor="middle">Rab9CA</text>
<text class="d" transform="translate(526.3 346.5) rotate(-45)" font-size="9.3" fill="#2828da" text-anchor="middle">Rab9DN</text>
<path d="M388.8 215.4H460.5" stroke="#5454e2" stroke-width="1.1"/>
<text class="d" x="429.1" y="215.2" font-size="7.5" font-weight="bold" fill="#2828da" stroke="none" text-anchor="middle" letter-spacing="0.7">****</text>
<path d="M382.2 481.1h1.2M385.8 480.5h1.2M389.9 480.7h1.2M391.5 481.3h1.2M393.4 481.0h1.2M382.4 472.4h1.2M383.9 472.4h1.2M385.9 472.7h1.2M390.1 472.7h1.2M391.9 472.8h1.2M395.8 472.8h1.2M379.5 470.1h1.2M383.2 470.4h1.2M387.0 470.4h1.2M396.6 470.8h1.2M381.3 463.8h1.2M386.9 463.7h1.2M388.7 463.7h1.2M390.6 463.8h1.2M392.8 464.4h1.2M394.7 464.1h1.2M381.1 451.7h1.2M385.2 451.4h1.2M387.0 451.6h1.2M388.8 451.2h1.2M390.9 451.8h1.2M394.8 451.7h1.2M383.2 453.5h1.2M391.0 453.2h1.2M383.1 459.8h1.2M385.2 460.0h1.2M388.9 460.0h1.2M392.5 460.0h1.2M394.5 460.3h1.2M379.2 468.3h1.2M383.2 468.2h1.2M387.0 468.2h1.2M389.1 468.6h1.2M390.9 468.4h1.2M394.8 468.5h1.2M396.7 468.7h1.2M382.4 474.7h1.2M384.0 474.3h1.2M387.7 475.0h1.2M389.7 474.5h1.2M391.7 474.4h1.2M381.5 465.9h1.2M385.0 466.5h1.2M387.0 466.3h1.2M390.5 466.5h1.2M392.7 466.2h1.2M394.5 466.2h1.2M396.5 465.9h1.2M384.0 462.1h1.2M386.1 449.5h1.2M388.0 449.2h1.2M391.6 449.1h1.2M382.2 479.2h1.2M384.3 479.1h1.2M390.0 478.5h1.2M393.4 478.5h1.2M381.4 455.8h1.2M385.0 455.6h1.2M386.7 455.9h1.2M389.1 456.0h1.2M390.8 455.9h1.2M392.9 455.8h1.2M383.4 457.7h1.2M387.0 458.0h1.2M388.9 457.8h1.2M391.0 457.6h1.2M381.9 483.1h1.2M384.2 483.0h1.2M388.0 482.9h1.2M390.1 483.4h1.2M391.8 483.1h1.2M383.3 489.7h1.2M387.2 489.1h1.2M388.9 489.4h1.2M392.5 488.9h1.2M379.3 447.2h1.2M381.0 447.6h1.2M383.4 447.4h1.2M385.0 447.0h1.2M387.1 447.5h1.2M389.0 446.9h1.2M396.4 447.4h1.2M389.1 430.5h1.2M386.7 424.2h1.2M388.7 424.6h1.2M381.3 477.1h1.2M383.4 476.6h1.2M384.9 476.5h1.2M387.0 476.8h1.2M389.0 476.7h1.2M392.9 476.5h1.2M387.1 442.8h1.2M390.5 442.7h1.2M384.8 485.2h1.2M386.9 485.3h1.2M388.7 485.0h1.2M386.9 422.2h1.2M388.6 422.4h1.2M388.6 438.9h1.2M389.1 432.4h1.2M387.1 486.8h1.2M388.6 487.1h1.2M390.8 487.5h1.2M385.8 491.6h1.2M387.9 491.8h1.2M388.0 493.2h1.2M388.8 495.6h1.2" stroke="#f9a870" stroke-width="1.2" stroke-opacity="0.8" fill="none"/>
<path d="M384.1 480.9h1.2M388.1 480.6h1.2M380.1 472.5h1.2M387.8 472.4h1.2M393.4 472.6h1.2M381.1 470.2h1.2M384.8 470.6h1.2M389.0 470.7h1.2M390.6 470.0h1.2M392.7 470.7h1.2M394.5 470.5h1.2M382.9 464.5h1.2M385.0 463.7h1.2M383.2 451.4h1.2M392.6 451.5h1.2M385.3 453.7h1.2M387.1 453.8h1.2M388.6 453.3h1.2M392.5 453.3h1.2M381.5 459.7h1.2M386.8 460.0h1.2M391.0 460.0h1.2M381.4 468.2h1.2M385.2 468.5h1.2M392.5 468.1h1.2M385.9 474.2h1.2M393.4 474.5h1.2M379.6 466.5h1.2M383.2 466.0h1.2M388.7 466.0h1.2M380.4 462.0h1.2M382.0 462.4h1.2M386.0 461.9h1.2M388.0 462.2h1.2M389.5 461.9h1.2M391.9 461.9h1.2M393.8 462.0h1.2M395.6 462.1h1.2M384.3 449.3h1.2M390.1 449.5h1.2M386.2 436.4h1.2M387.8 436.5h1.2M389.9 437.0h1.2M386.1 478.6h1.2M387.8 478.7h1.2M391.8 478.6h1.2M382.9 455.6h1.2M394.7 455.8h1.2M381.2 457.4h1.2M385.3 457.8h1.2M392.9 457.8h1.2M394.7 457.4h1.2M386.3 483.0h1.2M393.5 483.1h1.2M385.0 489.1h1.2M391.0 489.5h1.2M391.0 447.0h1.2M392.8 446.9h1.2M394.5 447.6h1.2M386.1 434.3h1.2M387.6 434.6h1.2M389.6 434.4h1.2M386.7 430.7h1.2M390.7 477.0h1.2M394.3 476.5h1.2M384.9 443.5h1.2M388.9 443.3h1.2M383.2 484.7h1.2M390.8 485.4h1.2M392.7 485.1h1.2M387.0 438.9h1.2M386.7 432.9h1.2M388.1 441.4h1.2M388.0 417.7h1.2M388.1 428.1h1.2M385.1 486.9h1.2M389.8 491.4h1.2M387.2 495.9h1.2" stroke="#c4cc2c" stroke-width="1.2" stroke-opacity="0.85" fill="none"/>
<path d="M406.9 451.1h1.2M408.8 451.4h1.2M411.1 451.4h1.2M412.8 451.9h1.2M414.5 451.7h1.2M405.4 453.2h1.2M407.2 454.0h1.2M414.6 453.3h1.2M416.6 453.4h1.2M407.4 474.5h1.2M416.6 474.3h1.2M406.9 468.1h1.2M409.2 468.4h1.2M413.0 468.2h1.2M414.7 468.5h1.2M416.8 468.4h1.2M405.9 481.0h1.2M408.0 480.6h1.2M412.0 481.2h1.2M417.5 481.1h1.2M419.3 480.8h1.2M405.2 482.8h1.2M409.0 483.0h1.2M411.0 483.3h1.2M412.7 483.1h1.2M414.6 482.8h1.2M416.6 482.8h1.2M418.6 483.0h1.2M403.6 462.1h1.2M408.9 461.9h1.2M412.6 462.2h1.2M416.9 462.2h1.2M418.6 461.6h1.2M420.3 462.3h1.2M409.1 465.8h1.2M412.8 465.9h1.2M418.7 466.1h1.2M404.1 472.4h1.2M406.3 472.5h1.2M408.0 472.9h1.2M409.9 472.2h1.2M411.6 472.6h1.2M415.8 472.2h1.2M417.5 472.8h1.2M419.3 472.3h1.2M403.2 470.5h1.2M405.3 470.4h1.2M407.1 470.2h1.2M411.2 470.1h1.2M412.9 470.6h1.2M414.5 470.4h1.2M416.7 470.5h1.2M418.4 470.3h1.2M410.2 463.9h1.2M413.5 464.0h1.2M415.8 464.5h1.2M417.3 463.8h1.2M407.9 457.9h1.2M409.9 457.7h1.2M414.0 457.7h1.2M415.8 457.5h1.2M407.3 479.0h1.2M408.8 479.1h1.2M411.0 478.6h1.2M412.9 478.7h1.2M415.0 478.9h1.2M418.4 478.8h1.2M407.4 460.1h1.2M408.8 459.8h1.2M411.2 459.8h1.2M412.7 459.7h1.2M416.4 460.2h1.2M418.7 459.9h1.2M403.2 476.4h1.2M407.0 476.5h1.2M408.9 477.1h1.2M414.8 476.6h1.2M418.6 476.7h1.2M420.2 476.5h1.2M406.2 486.8h1.2M408.0 487.2h1.2M411.9 487.4h1.2M419.2 487.6h1.2M405.4 456.0h1.2M409.2 456.1h1.2M412.6 456.0h1.2M404.0 449.0h1.2M406.5 449.4h1.2M408.2 449.6h1.2M410.2 449.6h1.2M411.9 449.4h1.2M415.9 449.3h1.2M419.8 449.6h1.2M411.9 432.5h1.2M408.8 447.1h1.2M410.8 447.4h1.2M412.0 436.5h1.2M413.6 436.7h1.2M412.2 443.2h1.2M411.8 426.2h1.2M414.0 426.2h1.2M408.0 440.8h1.2M410.2 440.6h1.2M415.8 440.7h1.2M411.9 444.8h1.2M414.0 445.2h1.2M411.8 435.1h1.2M410.0 489.3h1.2M415.4 489.5h1.2M407.1 485.5h1.2M409.1 484.8h1.2M411.2 484.9h1.2M413.0 485.5h1.2M414.6 485.1h1.2M411.6 422.5h1.2M410.7 491.6h1.2M413.0 491.5h1.2M409.1 493.8h1.2M411.1 493.3h1.2M413.0 493.7h1.2" stroke="#f99088" stroke-width="1.2" stroke-opacity="0.8" fill="none"/>
<path d="M416.5 451.7h1.2M408.9 453.4h1.2M410.7 453.7h1.2M412.9 453.5h1.2M418.7 453.4h1.2M405.4 474.3h1.2M408.9 474.7h1.2M410.7 474.3h1.2M412.6 474.6h1.2M414.6 474.4h1.2M418.4 474.4h1.2M403.1 468.5h1.2M405.3 468.5h1.2M410.7 467.9h1.2M418.8 468.3h1.2M420.3 468.7h1.2M404.3 480.8h1.2M409.8 480.6h1.2M414.0 480.9h1.2M415.6 481.1h1.2M407.1 483.3h1.2M405.5 461.9h1.2M407.3 462.4h1.2M411.2 461.9h1.2M414.5 462.4h1.2M405.4 466.3h1.2M407.1 466.2h1.2M411.2 466.4h1.2M414.7 466.2h1.2M416.8 466.1h1.2M413.9 472.4h1.2M408.8 470.5h1.2M420.7 470.7h1.2M406.5 463.8h1.2M408.1 464.3h1.2M412.2 464.5h1.2M406.4 458.1h1.2M412.1 457.5h1.2M417.9 457.7h1.2M405.5 479.0h1.2M416.6 478.9h1.2M405.3 460.0h1.2M414.5 459.7h1.2M405.5 476.7h1.2M411.2 476.4h1.2M412.9 476.5h1.2M416.5 476.7h1.2M404.4 486.8h1.2M410.3 487.6h1.2M413.6 487.3h1.2M415.7 487.3h1.2M417.3 487.5h1.2M407.0 455.8h1.2M411.1 455.6h1.2M414.8 456.0h1.2M416.9 455.9h1.2M418.8 455.9h1.2M413.8 449.6h1.2M417.4 449.4h1.2M413.1 447.5h1.2M414.8 447.7h1.2M410.1 436.7h1.2M410.2 426.1h1.2M412.1 441.2h1.2M413.6 440.8h1.2M409.7 445.3h1.2M408.0 489.3h1.2M412.1 489.3h1.2M413.6 489.1h1.2M416.6 485.2h1.2M411.8 430.5h1.2M414.9 493.1h1.2" stroke="#c4cc2c" stroke-width="1.2" stroke-opacity="0.85" fill="none"/>
<path d="M428.1 474.6h1.2M431.9 474.6h1.2M435.6 474.6h1.2M437.9 474.4h1.2M439.7 474.6h1.2M443.3 474.9h1.2M429.0 463.7h1.2M430.9 464.4h1.2M432.8 464.3h1.2M436.6 464.3h1.2M439.0 464.3h1.2M440.5 464.4h1.2M442.5 464.2h1.2M427.2 470.3h1.2M431.4 470.8h1.2M432.9 470.0h1.2M436.9 470.8h1.2M442.6 470.5h1.2M444.2 470.6h1.2M430.5 447.6h1.2M436.0 447.6h1.2M437.6 447.1h1.2M439.8 447.2h1.2M441.7 447.3h1.2M434.7 478.7h1.2M436.6 478.7h1.2M440.9 478.8h1.2M427.2 466.3h1.2M429.4 466.1h1.2M434.7 466.5h1.2M442.6 466.5h1.2M444.4 466.1h1.2M430.4 455.6h1.2M432.4 456.1h1.2M436.1 456.0h1.2M441.4 456.0h1.2M433.2 439.2h1.2M436.8 438.6h1.2M438.6 439.1h1.2M430.4 449.2h1.2M432.2 449.1h1.2M438.0 449.3h1.2M441.6 449.5h1.2M443.7 449.3h1.2M428.2 476.3h1.2M430.4 476.8h1.2M439.9 476.5h1.2M431.3 460.2h1.2M434.7 460.1h1.2M437.0 459.5h1.2M438.8 459.7h1.2M440.9 459.8h1.2M442.4 459.7h1.2M432.2 468.4h1.2M434.2 468.5h1.2M437.5 468.2h1.2M439.9 468.1h1.2M430.1 472.3h1.2M432.0 472.2h1.2M437.9 472.7h1.2M439.9 472.7h1.2M441.4 472.4h1.2M430.0 483.3h1.2M432.1 483.0h1.2M433.8 482.8h1.2M436.1 482.9h1.2M437.6 482.8h1.2M439.5 483.2h1.2M441.7 483.2h1.2M430.5 480.9h1.2M436.1 481.0h1.2M439.6 481.2h1.2M433.3 461.8h1.2M438.5 461.8h1.2M440.9 462.3h1.2M442.7 462.1h1.2M431.3 458.2h1.2M432.8 457.7h1.2M435.0 457.7h1.2M436.0 436.5h1.2M432.8 487.0h1.2M434.8 487.3h1.2M436.6 487.2h1.2M430.0 441.2h1.2M432.2 440.6h1.2M437.6 441.1h1.2M428.2 451.7h1.2M433.8 451.4h1.2M435.7 451.8h1.2M437.7 451.2h1.2M441.4 451.7h1.2M443.7 451.5h1.2M437.0 443.1h1.2M430.0 453.9h1.2M435.8 453.4h1.2M438.0 453.4h1.2M441.8 453.4h1.2M435.8 419.9h1.2M435.2 444.8h1.2M437.1 445.2h1.2M435.9 434.5h1.2M435.2 491.6h1.2M437.0 491.2h1.2M432.3 489.7h1.2M433.9 489.7h1.2M435.8 489.4h1.2M438.0 489.5h1.2M440.0 489.2h1.2M434.2 493.4h1.2M435.7 493.3h1.2M438.0 493.4h1.2" stroke="#f99088" stroke-width="1.2" stroke-opacity="0.8" fill="none"/>
<path d="M430.4 474.7h1.2M434.2 474.9h1.2M441.7 474.8h1.2M427.5 464.1h1.2M435.1 464.2h1.2M444.5 464.0h1.2M429.1 470.6h1.2M435.1 470.3h1.2M438.7 470.4h1.2M440.7 470.3h1.2M432.3 447.3h1.2M433.7 447.6h1.2M429.5 478.4h1.2M431.2 479.0h1.2M433.3 479.1h1.2M438.7 478.5h1.2M442.5 478.6h1.2M430.9 466.0h1.2M433.3 465.8h1.2M436.7 466.5h1.2M438.7 466.1h1.2M440.6 466.6h1.2M428.4 455.3h1.2M433.8 455.8h1.2M438.0 455.4h1.2M439.4 455.8h1.2M443.7 455.3h1.2M435.1 438.5h1.2M428.5 449.3h1.2M434.0 449.6h1.2M436.0 449.5h1.2M439.7 449.3h1.2M432.0 476.7h1.2M433.8 476.4h1.2M435.9 476.4h1.2M437.7 476.8h1.2M441.7 477.0h1.2M443.6 476.9h1.2M429.1 459.9h1.2M433.0 459.6h1.2M430.2 468.6h1.2M435.9 468.7h1.2M441.5 468.1h1.2M433.9 472.2h1.2M436.2 472.6h1.2M431.8 480.7h1.2M434.3 481.0h1.2M437.8 480.6h1.2M441.3 480.6h1.2M429.2 461.6h1.2M431.3 462.2h1.2M435.0 462.1h1.2M436.6 461.9h1.2M429.3 457.7h1.2M436.6 457.8h1.2M438.6 457.7h1.2M440.9 457.9h1.2M442.5 457.6h1.2M429.9 484.8h1.2M432.3 485.5h1.2M433.8 484.7h1.2M436.0 485.3h1.2M437.5 485.1h1.2M439.4 484.8h1.2M441.9 484.9h1.2M431.0 487.3h1.2M438.9 487.3h1.2M440.6 487.4h1.2M434.0 441.3h1.2M436.0 440.6h1.2M439.6 440.9h1.2M441.4 441.3h1.2M430.5 451.7h1.2M431.8 451.6h1.2M439.8 451.6h1.2M434.9 443.1h1.2M428.4 453.8h1.2M432.1 453.8h1.2M434.2 453.8h1.2M439.6 453.8h1.2M443.8 453.9h1.2M434.8 424.3h1.2M437.0 424.4h1.2M432.9 445.4h1.2M438.6 445.3h1.2M435.0 495.9h1.2M436.8 495.6h1.2" stroke="#c4cc2c" stroke-width="1.2" stroke-opacity="0.85" fill="none"/>
<path d="M453.5 475.0h1.2M459.2 474.7h1.2M460.7 475.0h1.2M462.8 474.6h1.2M452.1 449.5h1.2M456.0 449.7h1.2M457.8 449.3h1.2M460.0 449.8h1.2M463.6 449.1h1.2M452.5 445.0h1.2M453.9 445.1h1.2M456.0 445.0h1.2M458.1 445.4h1.2M461.5 444.9h1.2M465.8 445.4h1.2M455.0 460.0h1.2M457.3 459.6h1.2M459.0 460.1h1.2M460.8 460.1h1.2M462.5 459.6h1.2M464.6 460.3h1.2M466.6 459.6h1.2M468.3 460.0h1.2M456.2 453.8h1.2M457.8 453.3h1.2M460.2 453.3h1.2M465.7 453.7h1.2M454.2 451.5h1.2M456.3 451.9h1.2M459.8 451.3h1.2M451.6 464.1h1.2M453.2 463.8h1.2M454.9 463.8h1.2M457.1 464.4h1.2M458.7 464.3h1.2M460.8 464.4h1.2M464.9 463.7h1.2M453.1 455.6h1.2M456.8 455.3h1.2M461.1 455.4h1.2M462.8 456.1h1.2M464.7 456.0h1.2M466.5 455.4h1.2M451.1 457.8h1.2M458.9 457.8h1.2M461.0 457.9h1.2M462.8 458.0h1.2M464.9 458.0h1.2M468.7 457.6h1.2M452.5 468.0h1.2M454.5 467.9h1.2M455.8 468.4h1.2M457.9 468.6h1.2M461.5 468.2h1.2M467.3 468.2h1.2M452.2 443.3h1.2M454.0 443.3h1.2M456.3 442.9h1.2M458.0 443.1h1.2M461.9 442.9h1.2M465.4 442.8h1.2M467.5 443.2h1.2M455.4 470.6h1.2M458.7 470.0h1.2M461.0 470.4h1.2M462.7 470.1h1.2M466.6 470.4h1.2M451.2 462.3h1.2M455.1 462.0h1.2M457.1 461.8h1.2M459.0 461.7h1.2M461.1 461.9h1.2M462.5 462.1h1.2M464.6 462.4h1.2M466.4 462.2h1.2M468.4 461.8h1.2M452.4 447.3h1.2M456.3 447.2h1.2M460.0 447.5h1.2M463.6 447.5h1.2M465.8 447.2h1.2M451.2 440.7h1.2M453.4 440.8h1.2M457.1 441.3h1.2M460.7 440.6h1.2M462.8 441.0h1.2M451.1 476.4h1.2M453.0 476.5h1.2M455.2 477.0h1.2M457.0 476.4h1.2M460.9 476.6h1.2M462.8 476.6h1.2M468.2 477.0h1.2M459.0 432.2h1.2M460.8 433.0h1.2M462.5 433.0h1.2M460.9 420.4h1.2M452.6 466.0h1.2M454.1 465.9h1.2M456.3 466.0h1.2M461.5 466.2h1.2M463.7 466.0h1.2M465.6 465.8h1.2M467.6 466.0h1.2M454.9 437.0h1.2M458.9 436.8h1.2M460.6 436.8h1.2M462.5 436.9h1.2M464.8 436.6h1.2M466.5 436.6h1.2M460.2 426.5h1.2M462.0 426.1h1.2M455.2 472.8h1.2M457.1 472.7h1.2M459.1 472.7h1.2M462.6 472.1h1.2M466.7 472.5h1.2M468.5 472.8h1.2M459.8 438.5h1.2M463.7 438.8h1.2M465.5 438.7h1.2M457.2 430.3h1.2M461.0 430.5h1.2M462.9 430.6h1.2M455.3 434.8h1.2M457.3 434.6h1.2M458.9 434.4h1.2M455.3 482.8h1.2M459.2 482.7h1.2M462.8 482.8h1.2M464.5 483.0h1.2M457.1 478.4h1.2M458.8 479.0h1.2M461.0 478.6h1.2M462.6 478.7h1.2M459.2 481.0h1.2M460.1 409.3h1.2M459.6 424.5h1.2M460.9 401.5h1.2M460.1 407.1h1.2M459.8 396.7h1.2M460.0 484.7h1.2M457.1 491.1h1.2M461.0 491.2h1.2M462.9 491.0h1.2" stroke="#f99088" stroke-width="1.2" stroke-opacity="0.8" fill="none"/>
<path d="M451.3 475.0h1.2M455.3 474.7h1.2M457.2 474.6h1.2M464.4 474.6h1.2M466.4 474.6h1.2M468.5 474.5h1.2M454.3 449.6h1.2M462.1 449.2h1.2M465.7 449.1h1.2M467.3 449.2h1.2M460.1 445.3h1.2M463.7 445.3h1.2M467.3 445.4h1.2M451.1 459.7h1.2M453.1 460.1h1.2M454.0 453.7h1.2M461.8 453.4h1.2M463.5 453.9h1.2M458.2 451.1h1.2M461.7 451.8h1.2M463.5 451.4h1.2M465.7 451.8h1.2M462.5 464.4h1.2M466.6 464.3h1.2M468.5 464.3h1.2M455.4 455.6h1.2M459.0 455.4h1.2M453.4 457.5h1.2M455.3 457.5h1.2M457.1 458.0h1.2M466.6 458.0h1.2M459.9 468.2h1.2M464.0 468.6h1.2M465.6 468.7h1.2M459.9 443.1h1.2M464.0 443.5h1.2M453.3 470.5h1.2M457.3 470.0h1.2M464.9 470.4h1.2M453.4 461.7h1.2M454.3 447.1h1.2M457.8 447.7h1.2M461.9 447.1h1.2M467.5 447.0h1.2M454.9 440.8h1.2M458.7 441.1h1.2M464.7 441.1h1.2M466.3 441.0h1.2M468.2 441.2h1.2M459.1 476.5h1.2M464.5 476.8h1.2M466.3 476.5h1.2M457.0 432.2h1.2M458.7 420.0h1.2M457.8 466.1h1.2M460.2 466.4h1.2M453.0 437.2h1.2M457.2 436.5h1.2M458.0 426.4h1.2M451.5 472.9h1.2M453.2 472.8h1.2M460.9 472.7h1.2M464.8 472.7h1.2M459.7 395.0h1.2M454.5 439.1h1.2M456.2 438.9h1.2M457.9 439.1h1.2M462.0 439.1h1.2M459.1 430.4h1.2M461.1 434.4h1.2M462.9 434.5h1.2M464.4 434.6h1.2M457.9 417.9h1.2M459.8 418.0h1.2M462.1 417.9h1.2M456.8 482.7h1.2M460.6 483.1h1.2M455.1 479.1h1.2M464.6 479.2h1.2M460.8 480.9h1.2M458.9 400.8h1.2M460.0 415.6h1.2M459.6 487.0h1.2M458.8 491.1h1.2M460.0 489.5h1.2" stroke="#c4cc2c" stroke-width="1.2" stroke-opacity="0.85" fill="none"/>
<path d="M477.4 468.0h1.2M478.9 468.4h1.2M480.9 468.6h1.2M483.2 468.1h1.2M485.0 468.3h1.2M486.6 468.3h1.2M488.4 468.0h1.2M490.6 468.4h1.2M481.3 470.4h1.2M483.2 470.6h1.2M490.4 470.8h1.2M475.3 464.3h1.2M479.0 464.0h1.2M481.3 463.9h1.2M482.9 464.2h1.2M484.8 464.1h1.2M486.7 463.9h1.2M490.6 463.7h1.2M475.5 455.5h1.2M477.0 455.6h1.2M479.0 455.3h1.2M484.8 455.7h1.2M487.0 455.8h1.2M488.5 455.6h1.2M490.6 456.0h1.2M478.0 453.5h1.2M486.0 453.5h1.2M489.3 453.8h1.2M478.0 481.0h1.2M483.7 481.1h1.2M485.5 481.3h1.2M489.7 481.1h1.2M478.4 451.6h1.2M481.9 451.9h1.2M485.6 451.4h1.2M487.4 451.7h1.2M491.3 451.5h1.2M478.2 466.6h1.2M480.0 465.8h1.2M482.1 465.9h1.2M485.6 466.5h1.2M489.8 466.4h1.2M476.2 474.4h1.2M478.2 474.4h1.2M480.3 475.0h1.2M487.7 474.7h1.2M489.4 474.4h1.2M491.8 474.8h1.2M480.0 462.0h1.2M483.6 462.0h1.2M487.7 462.3h1.2M489.7 462.0h1.2M476.2 483.2h1.2M478.0 482.6h1.2M484.0 483.2h1.2M485.6 483.0h1.2M487.7 482.7h1.2M489.6 482.8h1.2M491.6 482.9h1.2M478.4 477.0h1.2M480.0 477.0h1.2M482.0 476.8h1.2M484.0 477.1h1.2M485.9 476.6h1.2M487.4 476.6h1.2M489.4 476.8h1.2M480.3 487.1h1.2M481.8 486.9h1.2M483.8 487.3h1.2M486.0 487.5h1.2M477.0 447.3h1.2M479.2 447.0h1.2M485.0 447.5h1.2M486.5 447.5h1.2M488.7 447.5h1.2M490.3 447.3h1.2M486.5 434.5h1.2M480.1 478.7h1.2M487.4 479.1h1.2M489.4 478.9h1.2M491.5 478.7h1.2M475.6 459.8h1.2M477.1 460.2h1.2M480.8 459.7h1.2M484.8 460.2h1.2M486.7 460.0h1.2M488.6 460.0h1.2M490.7 459.9h1.2M492.3 460.1h1.2M478.9 443.1h1.2M482.9 442.8h1.2M486.6 443.4h1.2M488.9 442.8h1.2M478.1 457.6h1.2M480.4 457.9h1.2M481.7 457.6h1.2M484.1 457.5h1.2M485.6 458.2h1.2M487.5 457.5h1.2M489.5 457.9h1.2M491.3 458.2h1.2M475.2 472.3h1.2M477.5 472.5h1.2M483.0 472.7h1.2M484.6 472.6h1.2M487.0 472.9h1.2M488.6 472.1h1.2M490.8 472.4h1.2M483.0 436.7h1.2M485.0 436.7h1.2M486.5 436.5h1.2M485.0 432.2h1.2M480.1 484.8h1.2M482.1 485.2h1.2M487.8 485.3h1.2M479.2 449.7h1.2M485.0 449.7h1.2M486.8 449.0h1.2M482.9 438.8h1.2M484.7 439.3h1.2M478.0 445.6h1.2M480.4 445.4h1.2M482.0 445.2h1.2M485.7 445.5h1.2M487.6 445.3h1.2M483.9 441.1h1.2M481.3 428.4h1.2M482.9 428.5h1.2M484.7 428.4h1.2M486.6 428.6h1.2M485.0 495.8h1.2M485.1 489.0h1.2M486.9 489.4h1.2M481.7 493.7h1.2M485.5 493.5h1.2" stroke="#f99c84" stroke-width="1.2" stroke-opacity="0.8" fill="none"/>
<path d="M477.3 470.5h1.2M479.2 470.3h1.2M484.8 470.1h1.2M487.0 470.3h1.2M488.9 470.2h1.2M477.2 464.0h1.2M488.9 464.1h1.2M492.5 464.1h1.2M481.2 455.8h1.2M482.7 456.1h1.2M492.6 455.9h1.2M480.0 453.3h1.2M481.9 453.5h1.2M483.8 453.7h1.2M487.6 453.8h1.2M480.4 480.6h1.2M482.1 481.2h1.2M487.5 480.9h1.2M476.3 451.3h1.2M480.2 451.7h1.2M483.6 451.4h1.2M489.8 451.5h1.2M483.7 466.1h1.2M487.6 466.6h1.2M481.7 474.3h1.2M484.0 474.8h1.2M485.9 474.7h1.2M478.5 461.6h1.2M481.8 462.2h1.2M485.6 461.6h1.2M480.0 482.7h1.2M482.0 483.4h1.2M487.8 487.3h1.2M481.1 447.1h1.2M482.7 446.9h1.2M480.9 434.8h1.2M482.8 434.8h1.2M484.7 434.7h1.2M476.5 478.6h1.2M478.3 478.5h1.2M482.1 478.6h1.2M483.8 479.1h1.2M485.9 478.7h1.2M479.0 460.2h1.2M482.7 460.0h1.2M481.1 443.0h1.2M484.9 442.8h1.2M476.4 457.4h1.2M478.9 472.3h1.2M480.9 472.1h1.2M492.4 472.6h1.2M481.3 436.5h1.2M483.0 432.4h1.2M483.7 484.8h1.2M485.6 485.0h1.2M480.8 449.3h1.2M482.9 449.4h1.2M488.5 449.0h1.2M484.1 430.7h1.2M484.1 445.4h1.2M489.4 445.4h1.2M484.0 418.2h1.2M483.9 424.3h1.2M482.8 496.0h1.2M480.8 488.9h1.2M482.9 488.9h1.2M483.7 493.1h1.2" stroke="#c4cc2c" stroke-width="1.2" stroke-opacity="0.85" fill="none"/>
<path d="M501.4 464.4h1.2M503.4 463.9h1.2M509.0 464.3h1.2M510.8 464.3h1.2M512.7 464.2h1.2M501.0 451.5h1.2M505.1 451.7h1.2M508.6 451.8h1.2M512.7 451.9h1.2M505.3 428.2h1.2M506.9 428.6h1.2M508.7 428.3h1.2M501.5 455.4h1.2M504.9 455.8h1.2M508.7 455.5h1.2M512.5 455.6h1.2M514.4 455.8h1.2M500.2 480.6h1.2M502.1 481.2h1.2M507.7 480.9h1.2M509.9 481.3h1.2M511.9 480.6h1.2M515.7 481.0h1.2M506.0 434.8h1.2M500.0 466.3h1.2M502.0 465.8h1.2M508.1 466.3h1.2M509.9 466.0h1.2M511.9 466.3h1.2M513.8 465.9h1.2M500.1 468.2h1.2M502.4 468.2h1.2M504.2 468.1h1.2M505.9 468.1h1.2M507.7 468.1h1.2M511.8 468.4h1.2M502.2 461.8h1.2M507.6 462.2h1.2M513.7 462.1h1.2M501.0 470.7h1.2M505.0 470.5h1.2M507.2 470.6h1.2M508.7 470.2h1.2M512.9 470.5h1.2M516.6 470.7h1.2M500.4 453.8h1.2M506.0 453.8h1.2M509.5 453.4h1.2M513.3 453.2h1.2M515.7 453.4h1.2M501.1 474.3h1.2M505.0 474.9h1.2M509.1 474.6h1.2M510.9 474.6h1.2M512.6 474.5h1.2M514.6 474.3h1.2M502.0 449.4h1.2M509.5 449.6h1.2M511.9 449.1h1.2M513.4 449.6h1.2M499.3 483.1h1.2M501.2 483.4h1.2M503.0 482.6h1.2M505.2 483.3h1.2M508.7 483.3h1.2M514.8 482.6h1.2M516.2 482.8h1.2M501.1 458.0h1.2M503.4 457.5h1.2M505.2 457.9h1.2M507.1 457.7h1.2M508.6 457.8h1.2M512.4 457.6h1.2M514.3 457.9h1.2M503.9 479.1h1.2M507.7 478.8h1.2M513.3 479.2h1.2M507.8 459.8h1.2M510.1 460.1h1.2M499.2 476.9h1.2M506.9 476.7h1.2M509.0 476.5h1.2M516.7 477.0h1.2M506.7 418.1h1.2M508.7 417.8h1.2M502.0 486.9h1.2M506.0 487.0h1.2M508.0 487.4h1.2M511.9 486.9h1.2M513.3 487.6h1.2M502.3 472.9h1.2M505.9 472.1h1.2M507.6 472.5h1.2M509.6 472.6h1.2M511.5 472.8h1.2M504.3 447.7h1.2M505.8 447.0h1.2M507.7 447.1h1.2M510.1 447.0h1.2M511.7 447.5h1.2M513.6 447.6h1.2M507.1 440.7h1.2M509.1 441.1h1.2M504.0 445.0h1.2M508.0 445.2h1.2M509.7 444.8h1.2M505.2 443.2h1.2M508.1 405.5h1.2M506.9 485.4h1.2M506.2 411.3h1.2M505.8 488.9h1.2M507.7 489.3h1.2M509.8 489.1h1.2M511.6 489.4h1.2M513.7 489.1h1.2M505.1 430.4h1.2M508.6 430.4h1.2M506.9 439.1h1.2M508.0 420.3h1.2M507.2 424.2h1.2M510.0 495.2h1.2M507.8 493.6h1.2" stroke="#f99c84" stroke-width="1.2" stroke-opacity="0.8" fill="none"/>
<path d="M499.1 464.5h1.2M505.2 463.9h1.2M507.2 463.9h1.2M514.5 464.2h1.2M516.5 464.1h1.2M503.2 451.6h1.2M507.2 451.2h1.2M510.7 451.5h1.2M514.4 451.4h1.2M510.8 428.4h1.2M502.9 456.0h1.2M506.7 455.4h1.2M510.8 455.7h1.2M504.2 481.1h1.2M505.9 480.8h1.2M513.6 481.1h1.2M508.1 434.8h1.2M509.8 435.0h1.2M504.3 465.8h1.2M506.0 466.4h1.2M515.5 466.5h1.2M509.8 468.0h1.2M513.6 468.2h1.2M515.5 468.5h1.2M500.6 462.0h1.2M504.0 462.1h1.2M505.8 461.7h1.2M509.9 461.9h1.2M512.0 462.4h1.2M515.3 462.4h1.2M499.6 470.5h1.2M502.9 470.4h1.2M511.0 470.3h1.2M514.7 470.7h1.2M502.4 453.2h1.2M504.2 453.7h1.2M507.7 453.7h1.2M512.0 453.8h1.2M499.5 474.4h1.2M503.2 474.6h1.2M507.0 474.5h1.2M516.3 474.9h1.2M504.1 449.7h1.2M505.9 449.2h1.2M508.0 449.4h1.2M506.9 483.3h1.2M510.8 483.4h1.2M512.8 483.4h1.2M499.1 457.8h1.2M510.5 457.8h1.2M516.4 457.6h1.2M500.1 478.8h1.2M502.4 478.8h1.2M506.1 478.8h1.2M509.6 478.8h1.2M511.4 479.1h1.2M515.3 479.1h1.2M500.6 460.0h1.2M502.4 459.7h1.2M503.9 459.6h1.2M506.1 460.2h1.2M511.5 459.7h1.2M513.6 460.0h1.2M515.5 459.9h1.2M501.4 476.6h1.2M503.3 476.9h1.2M505.3 476.8h1.2M510.8 476.4h1.2M512.6 477.0h1.2M514.3 476.3h1.2M504.0 487.1h1.2M509.6 487.2h1.2M504.2 472.3h1.2M513.6 472.4h1.2M502.0 447.3h1.2M507.2 436.9h1.2M508.6 436.5h1.2M505.8 444.9h1.2M511.5 445.2h1.2M507.0 443.5h1.2M508.6 443.0h1.2M510.6 443.5h1.2M505.1 484.9h1.2M508.9 485.3h1.2M510.8 484.8h1.2M507.9 412.0h1.2M510.0 411.8h1.2M507.7 421.8h1.2M502.3 489.5h1.2M504.3 489.5h1.2M508.1 426.7h1.2M506.9 430.4h1.2M510.8 430.6h1.2M507.8 415.8h1.2M508.6 439.1h1.2M509.0 424.4h1.2M507.8 432.6h1.2M506.1 495.6h1.2M507.9 495.4h1.2" stroke="#c4cc2c" stroke-width="1.2" stroke-opacity="0.85" fill="none"/>
<path d="M528.1 468.1h1.2M532.1 468.2h1.2M533.7 467.9h1.2M535.5 468.2h1.2M539.7 468.2h1.2M524.2 461.8h1.2M526.3 461.6h1.2M527.8 462.1h1.2M530.2 462.2h1.2M533.7 462.1h1.2M535.4 461.9h1.2M537.4 462.3h1.2M539.3 461.9h1.2M526.4 470.1h1.2M527.9 470.0h1.2M534.0 470.2h1.2M537.6 470.1h1.2M524.2 474.4h1.2M526.4 474.4h1.2M529.7 474.6h1.2M531.7 474.5h1.2M533.5 474.6h1.2M535.5 474.8h1.2M539.6 474.5h1.2M525.2 472.1h1.2M526.9 472.4h1.2M529.1 472.5h1.2M530.8 472.6h1.2M533.0 472.3h1.2M534.6 472.3h1.2M536.7 472.8h1.2M540.3 472.2h1.2M526.1 460.1h1.2M528.0 460.0h1.2M530.1 460.3h1.2M532.1 459.7h1.2M533.6 459.6h1.2M535.8 460.1h1.2M539.5 460.0h1.2M525.4 480.7h1.2M529.2 480.6h1.2M533.0 481.2h1.2M534.6 480.7h1.2M536.5 480.9h1.2M530.0 434.4h1.2M533.9 434.8h1.2M528.0 437.0h1.2M532.1 436.9h1.2M533.8 436.7h1.2M535.5 437.0h1.2M523.4 457.6h1.2M525.3 457.9h1.2M527.4 457.6h1.2M528.9 457.6h1.2M530.8 458.0h1.2M532.6 457.7h1.2M538.5 457.8h1.2M540.4 458.2h1.2M527.4 483.4h1.2M530.7 482.7h1.2M532.8 483.1h1.2M534.5 483.1h1.2M538.3 483.3h1.2M524.3 485.2h1.2M530.1 485.4h1.2M531.7 485.1h1.2M533.6 485.3h1.2M535.7 485.0h1.2M537.4 484.8h1.2M531.0 464.4h1.2M532.6 463.7h1.2M534.9 463.9h1.2M536.6 464.4h1.2M538.6 463.8h1.2M523.6 477.1h1.2M525.1 476.8h1.2M527.2 476.4h1.2M529.2 476.9h1.2M532.9 476.3h1.2M536.8 477.1h1.2M540.3 476.8h1.2M529.9 453.7h1.2M532.1 453.4h1.2M535.9 453.7h1.2M525.1 465.9h1.2M528.8 466.3h1.2M538.7 465.8h1.2M540.4 465.8h1.2M523.1 478.5h1.2M533.0 478.6h1.2M534.9 479.2h1.2M536.9 479.1h1.2M538.8 479.1h1.2M526.2 451.8h1.2M530.0 451.1h1.2M532.0 451.6h1.2M533.8 451.5h1.2M535.9 451.5h1.2M529.9 430.9h1.2M532.0 430.4h1.2M533.7 430.6h1.2M530.7 456.0h1.2M532.6 455.6h1.2M536.7 455.9h1.2M530.7 413.8h1.2M533.0 413.4h1.2M528.8 449.8h1.2M531.2 449.6h1.2M532.6 449.1h1.2M534.5 449.8h1.2M530.8 440.7h1.2M527.9 447.3h1.2M529.8 447.3h1.2M532.0 447.2h1.2M535.6 447.5h1.2M530.1 425.9h1.2M533.8 426.7h1.2M530.9 438.8h1.2M532.6 438.7h1.2M528.3 443.3h1.2M530.1 442.7h1.2M531.9 443.2h1.2M533.6 443.3h1.2M535.6 443.1h1.2M531.2 487.1h1.2M532.8 486.8h1.2M529.9 432.9h1.2M532.1 432.3h1.2M531.9 445.2h1.2M533.0 424.5h1.2M531.2 495.9h1.2M529.8 489.5h1.2M532.2 489.3h1.2M533.7 489.1h1.2M535.6 488.9h1.2M532.2 491.7h1.2M530.7 493.1h1.2" stroke="#f99c84" stroke-width="1.2" stroke-opacity="0.8" fill="none"/>
<path d="M524.2 468.2h1.2M526.4 468.3h1.2M529.9 468.6h1.2M537.8 468.0h1.2M532.0 461.9h1.2M524.1 470.5h1.2M530.0 470.5h1.2M532.1 470.6h1.2M535.8 470.4h1.2M539.8 470.2h1.2M528.4 474.4h1.2M537.5 474.7h1.2M523.5 472.3h1.2M538.6 472.3h1.2M524.3 460.0h1.2M537.3 459.9h1.2M527.0 481.2h1.2M531.0 481.3h1.2M538.5 480.5h1.2M532.0 434.4h1.2M530.1 436.5h1.2M534.8 458.1h1.2M536.8 457.6h1.2M525.0 483.0h1.2M529.3 483.0h1.2M536.8 483.0h1.2M526.5 485.4h1.2M527.9 484.8h1.2M539.5 485.1h1.2M525.0 464.3h1.2M527.2 463.8h1.2M528.9 464.0h1.2M530.7 477.0h1.2M534.9 476.8h1.2M538.6 476.9h1.2M526.0 454.0h1.2M528.1 453.9h1.2M533.6 453.3h1.2M537.7 453.7h1.2M523.1 466.4h1.2M527.3 465.9h1.2M530.9 466.3h1.2M532.8 466.1h1.2M534.8 466.0h1.2M536.4 466.2h1.2M525.0 479.2h1.2M527.3 479.0h1.2M529.2 478.5h1.2M530.8 479.1h1.2M540.3 478.5h1.2M528.2 451.5h1.2M537.6 451.8h1.2M527.2 455.7h1.2M529.1 455.4h1.2M535.0 455.9h1.2M532.1 428.1h1.2M531.7 392.6h1.2M532.6 440.6h1.2M533.6 447.3h1.2M531.9 426.0h1.2M534.1 432.5h1.2M531.7 416.0h1.2M530.8 424.0h1.2M532.6 495.5h1.2M527.8 489.5h1.2M533.1 493.1h1.2" stroke="#c4cc2c" stroke-width="1.2" stroke-opacity="0.85" fill="none"/>
<path d="M380.5 501V463.1H396.8V501" fill="none" stroke="#f9a25a" stroke-width="1.15"/>
<path d="M388.5 447.6V478.4M384.2 447.6h8.6M384.2 478.4h8.6" fill="none" stroke="#f9a25a" stroke-width="1.2"/>
<path d="M404.5 501V467.6H420.8V501" fill="none" stroke="#f8787c" stroke-width="1.15"/>
<path d="M412.5 453.1V481.8M408.2 453.1h8.6M408.2 481.8h8.6" fill="none" stroke="#f8787c" stroke-width="1.2"/>
<path d="M428.5 501V464.4H444.8V501" fill="none" stroke="#f8787c" stroke-width="1.15"/>
<path d="M436.5 449.9V479.0M432.2 449.9h8.6M432.2 479.0h8.6" fill="none" stroke="#f8787c" stroke-width="1.2"/>
<path d="M452.5 501V453.7H468.8V501" fill="none" stroke="#f8787c" stroke-width="1.15"/>
<path d="M460.5 435.0V471.3M456.2 435.0h8.6M456.2 471.3h8.6" fill="none" stroke="#f8787c" stroke-width="1.2"/>
<path d="M476.5 501V461.9H492.8V501" fill="none" stroke="#bcba22" stroke-width="1.15"/>
<path d="M484.5 446.0V477.0M480.2 446.0h8.6M480.2 477.0h8.6" fill="none" stroke="#bcba22" stroke-width="1.2"/>
<path d="M500.5 501V463.1H516.8V501" fill="none" stroke="#bcba22" stroke-width="1.15"/>
<path d="M508.5 445.4V480.1M504.2 445.4h8.6M504.2 480.1h8.6" fill="none" stroke="#bcba22" stroke-width="1.2"/>
<path d="M524.5 501V463.4H540.8V501" fill="none" stroke="#bcba22" stroke-width="1.15"/>
<path d="M532.5 447.4V479.6M528.2 447.4h8.6M528.2 479.6h8.6" fill="none" stroke="#bcba22" stroke-width="1.2"/>
<path d="M377.0 389.7V501H544.5" fill="none" stroke="#2626d4" stroke-width="1.5"/>
<path d="M373.6 501.0H377.0" stroke="#2626d4" stroke-width="1.4"/>
<text class="d" x="372.3" y="504.0" font-size="8.2" font-weight="bold" fill="#2828da" text-anchor="end">0</text>
<path d="M373.6 473.5H377.0" stroke="#2626d4" stroke-width="1.4"/>
<text class="d" x="372.3" y="476.5" font-size="8.2" font-weight="bold" fill="#2828da" text-anchor="end">50</text>
<path d="M373.6 446.0H377.0" stroke="#2626d4" stroke-width="1.4"/>
<text class="d" x="372.3" y="449.0" font-size="8.2" font-weight="bold" fill="#2828da" text-anchor="end">100</text>
<path d="M373.6 418.5H377.0" stroke="#2626d4" stroke-width="1.4"/>
<text class="d" x="372.3" y="421.5" font-size="8.2" font-weight="bold" fill="#2828da" text-anchor="end">150</text>
<path d="M373.6 391.0H377.0" stroke="#2626d4" stroke-width="1.4"/>
<text class="d" x="369.3" y="394.0" font-size="8.2" font-weight="bold" fill="#2828da" text-anchor="end">200</text>
<text class="d" x="376" y="382" font-size="10.3" fill="#2828da" stroke-width="0.35" textLength="168.39999999999998" lengthAdjust="spacingAndGlyphs">Antigen vesicle mean intensity</text>
<text class="d" transform="translate(351.2 443.5) rotate(-90)" font-size="9.3" fill="#2828da" text-anchor="middle" textLength="105" lengthAdjust="spacingAndGlyphs">Intensity (A.U.), × 100</text>
<text class="d" transform="translate(384.0 523.3) rotate(-45)" font-size="9.3" fill="#2828da" text-anchor="middle" textLength="20.3" lengthAdjust="spacingAndGlyphs">EGFP</text>
<text class="d" transform="translate(407.3 522.7) rotate(-45)" font-size="9.3" fill="#2828da" text-anchor="middle">Rab7WT</text>
<text class="d" transform="translate(430.8 522.7) rotate(-45)" font-size="9.3" fill="#2828da" text-anchor="middle">Rab7CA</text>
<text class="d" transform="translate(454.5 522.7) rotate(-45)" font-size="9.3" fill="#2828da" text-anchor="middle">Rab7DN</text>
<text class="d" transform="translate(477.7 522.7) rotate(-45)" font-size="9.3" fill="#2828da" text-anchor="middle">Rab9WT</text>
<text class="d" transform="translate(502.4 522.7) rotate(-45)" font-size="9.3" fill="#2828da" text-anchor="middle">Rab9CA</text>
<text class="d" transform="translate(526.3 522.7) rotate(-45)" font-size="9.3" fill="#2828da" text-anchor="middle">Rab9DN</text>
<path d="M388.8 394.4H460.5" stroke="#5454e2" stroke-width="1.1"/>
<text class="d" x="429.1" y="395.2" font-size="7.5" font-weight="bold" fill="#2828da" stroke="none" text-anchor="middle" letter-spacing="0.7">****</text>
<path d="M388.8 403.2H412.5" stroke="#5454e2" stroke-width="1.1"/>
<text class="d" x="400.6" y="404.7" font-size="7.5" font-weight="bold" fill="#2828da" stroke="none" text-anchor="middle" letter-spacing="0.7">*</text>
<path d="M74.0 212.4V494.3M73.6 500.8H242M99.8 500.8v2.6M151.2 500.8v2.6M202.7 500.8v2.6" fill="none" stroke="#2626d4" stroke-width="1.3"/>
<path d="M70.7 235.7H74.0" stroke="#2626d4" stroke-width="1.2"/>
<text class="a" x="62.0" y="240.1" font-size="10.6" fill="#2828da" text-anchor="end">4.5</text>
<path d="M70.7 297H74.0" stroke="#2626d4" stroke-width="1.2"/>
<text class="a" x="62.0" y="301.4" font-size="10.6" fill="#2828da" text-anchor="end">4.0</text>
<path d="M70.7 358.5H74.0" stroke="#2626d4" stroke-width="1.2"/>
<text class="a" x="62.0" y="362.9" font-size="10.6" fill="#2828da" text-anchor="end">3.5</text>
<path d="M70.7 420H74.0" stroke="#2626d4" stroke-width="1.2"/>
<text class="a" x="62.0" y="424.4" font-size="10.6" fill="#2828da" text-anchor="end">3.0</text>
<path d="M70.7 481.5H74.0" stroke="#2626d4" stroke-width="1.2"/>
<text class="a" x="62.0" y="485.9" font-size="10.6" fill="#2828da" text-anchor="end">2.5</text>
<text class="a" x="72.3" y="504.8" font-size="10.6" fill="#2828da" text-anchor="end">0</text>
<text class="a" x="98.9" y="514.8" font-size="10.6" fill="#2828da" text-anchor="middle">10</text>
<text class="a" x="150.5" y="514.8" font-size="10.6" fill="#2828da" text-anchor="middle">30</text>
<text class="a" x="202" y="514.8" font-size="10.6" fill="#2828da" text-anchor="middle">60</text>
<text class="a" x="155.7" y="528.3" font-size="10.8" fill="#2828da" text-anchor="middle">time (min)</text>
<text class="a" transform="translate(35.6 348.5) rotate(-90)" font-size="10.6" fill="#2828da" text-anchor="middle" textLength="156" lengthAdjust="spacingAndGlyphs">mean distance from MTOC (µm)</text>
<path d="M60.2 399.6h3" stroke="#bcba22" stroke-width="1"/>
<path d="M183.7 426V480.9H196.4V473.5" fill="none" stroke="#2626d4" stroke-width="1.1"/>
<text class="a" x="191.3" y="489.3" font-size="9" fill="#2828da" text-anchor="middle" letter-spacing="1.6" stroke="none">**</text>
<circle cx="79.9" cy="247.8" r="3.10" fill="#f9a25a"/>
<circle cx="86.6" cy="238.7" r="3.10" fill="none" stroke="#f8787c" stroke-width="1.4"/>
<path d="M85.39999999999999 238.6h2.4" stroke="#f8787c" stroke-width="0.9"/>
<rect x="90.20" y="258.50" width="6.00" height="6.00" fill="none" stroke="#f8787c" stroke-width="1.4"/>
<path d="M92.0 261.4h2.4" stroke="#f8787c" stroke-width="0.9"/>
<path d="M96.40 214.70H102.80L99.6 220.50Z" fill="none" stroke="#f8787c" stroke-width="1.4" stroke-linejoin="miter"/>
<path d="M98.39999999999999 216.5h2.4" stroke="#f8787c" stroke-width="0.9"/>
<circle cx="106" cy="231.9" r="3.10" fill="none" stroke="#bcba22" stroke-width="1.4"/>
<path d="M104.8 231.8h2.4" stroke="#bcba22" stroke-width="0.9"/>
<rect x="109.70" y="270.90" width="6.00" height="6.00" fill="none" stroke="#bcba22" stroke-width="1.4"/>
<path d="M111.5 273.79999999999995h2.4" stroke="#bcba22" stroke-width="0.9"/>
<path d="M115.80 229.90H122.20L119 235.70Z" fill="none" stroke="#bcba22" stroke-width="1.4" stroke-linejoin="miter"/>
<path d="M117.8 231.7h2.4" stroke="#bcba22" stroke-width="0.9"/>
<circle cx="131.9" cy="407.5" r="3.10" fill="#f9a25a"/>
<circle cx="137.9" cy="393.3" r="3.10" fill="none" stroke="#f8787c" stroke-width="1.4"/>
<path d="M136.70000000000002 393.2h2.4" stroke="#f8787c" stroke-width="0.9"/>
<rect x="141.60" y="399.60" width="6.00" height="6.00" fill="none" stroke="#f8787c" stroke-width="1.4"/>
<path d="M143.4 402.5h2.4" stroke="#f8787c" stroke-width="0.9"/>
<path d="M148.10 396.80H154.50L151.3 402.60Z" fill="none" stroke="#f8787c" stroke-width="1.4" stroke-linejoin="miter"/>
<path d="M150.10000000000002 398.6h2.4" stroke="#f8787c" stroke-width="0.9"/>
<circle cx="157.6" cy="379.9" r="3.10" fill="none" stroke="#bcba22" stroke-width="1.4"/>
<path d="M156.4 379.79999999999995h2.4" stroke="#bcba22" stroke-width="0.9"/>
<rect x="161.40" y="395.90" width="6.00" height="6.00" fill="none" stroke="#bcba22" stroke-width="1.4"/>
<path d="M163.20000000000002 398.79999999999995h2.4" stroke="#bcba22" stroke-width="0.9"/>
<path d="M167.50 378.20H173.90L170.7 384.00Z" fill="none" stroke="#bcba22" stroke-width="1.4" stroke-linejoin="miter"/>
<path d="M169.5 380.0h2.4" stroke="#bcba22" stroke-width="0.9"/>
<circle cx="183.7" cy="423.5" r="3.10" fill="#f9a25a"/>
<circle cx="190" cy="447.7" r="3.10" fill="none" stroke="#f8787c" stroke-width="1.4"/>
<path d="M188.8 447.59999999999997h2.4" stroke="#f8787c" stroke-width="0.9"/>
<rect x="193.40" y="466.30" width="6.00" height="6.00" fill="none" stroke="#f8787c" stroke-width="1.4"/>
<path d="M195.20000000000002 469.2h2.4" stroke="#f8787c" stroke-width="0.9"/>
<path d="M199.90 442.30H206.30L203.1 448.10Z" fill="none" stroke="#f8787c" stroke-width="1.4" stroke-linejoin="miter"/>
<path d="M201.9 444.1h2.4" stroke="#f8787c" stroke-width="0.9"/>
<circle cx="209.5" cy="393.7" r="3.10" fill="none" stroke="#bcba22" stroke-width="1.4"/>
<path d="M208.3 393.59999999999997h2.4" stroke="#bcba22" stroke-width="0.9"/>
<rect x="212.80" y="402.20" width="6.00" height="6.00" fill="none" stroke="#bcba22" stroke-width="1.4"/>
<path d="M214.60000000000002 405.09999999999997h2.4" stroke="#bcba22" stroke-width="0.9"/>
<path d="M219.30 399.10H225.70L222.5 404.90Z" fill="none" stroke="#bcba22" stroke-width="1.4" stroke-linejoin="miter"/>
<path d="M221.3 400.9h2.4" stroke="#bcba22" stroke-width="0.9"/>
<circle cx="189.6" cy="231.79999999999998" r="2.29" fill="#f9a25a"/>
<text class="a" x="198.8" y="234.9" font-size="9.3" fill="#2828da">EGFP</text>
<circle cx="189.6" cy="242.2" r="2.36" fill="none" stroke="#f8787c" stroke-width="1.5"/>
<text class="a" x="198.8" y="245.3" font-size="9.3" fill="#2828da">Rab7WT</text>
<rect x="187.26" y="249.46" width="4.68" height="4.68" fill="none" stroke="#f8787c" stroke-width="1.5"/>
<text class="a" x="198.8" y="254.9" font-size="9.3" fill="#2828da">Rab7CA</text>
<path d="M187.36 260.04H191.84L189.6 264.10Z" fill="none" stroke="#f8787c" stroke-width="1.5" stroke-linejoin="miter"/>
<text class="a" x="198.8" y="265.1" font-size="9.3" fill="#2828da">Rab7DN</text>
<circle cx="189.6" cy="272.4" r="2.36" fill="none" stroke="#bcba22" stroke-width="1.5"/>
<text class="a" x="198.8" y="275.5" font-size="9.3" fill="#2828da">Rab9WT</text>
<rect x="187.26" y="280.36" width="4.68" height="4.68" fill="none" stroke="#bcba22" stroke-width="1.5"/>
<text class="a" x="198.8" y="285.8" font-size="9.3" fill="#2828da">Rab9CA</text>
<path d="M187.36 290.84H191.84L189.6 294.90Z" fill="none" stroke="#bcba22" stroke-width="1.5" stroke-linejoin="miter"/>
<text class="a" x="198.8" y="295.90000000000003" font-size="9.3" fill="#2828da">Rab9DN</text>
</svg></body></html>
